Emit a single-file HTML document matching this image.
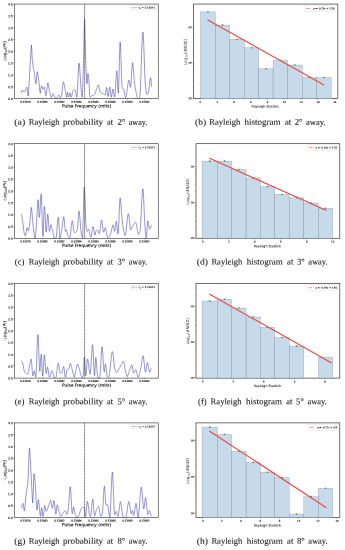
<!DOCTYPE html>
<html><head><meta charset="utf-8"><title>Rayleigh figures</title>
<style>
html,body{margin:0;padding:0;background:#fff;}
body{width:345px;height:550px;overflow:hidden;}
svg{display:block;}
.t{font-family:"DejaVu Sans","Liberation Sans",sans-serif;fill:#111;stroke:#111;stroke-width:0.12px;}
.u{font-family:"DejaVu Sans","Liberation Sans",sans-serif;fill:#2a2a2a;}
.m{font-family:"DejaVu Sans","Liberation Sans",sans-serif;fill:#151515;stroke:#151515;stroke-width:0.06px;}
.c{font-family:"Liberation Serif","DejaVu Serif",serif;fill:#1c1c1c;stroke:#1c1c1c;stroke-width:0.09px;}
</style></head><body>
<svg width="345" height="550" viewBox="0 0 345 550" text-rendering="geometricPrecision">
<rect width="345" height="550" fill="#fff"/>

<g>
<path d="M21.20,92.90 L21.45,91.84 L21.70,90.99 L21.95,90.37 L22.20,90.04 L22.45,90.03 L22.70,90.29 L22.95,90.70 L23.20,91.17 L23.45,91.59 L23.70,91.86 L23.95,91.88 L24.20,91.77 L24.45,91.59 L24.70,91.37 L24.95,91.11 L25.20,90.82 L25.45,90.47 L25.71,89.95 L25.96,89.30 L26.21,88.60 L26.46,87.91 L26.71,87.30 L26.96,87.19 L27.21,88.63 L27.46,91.01 L27.71,93.54 L27.96,95.47 L28.21,96.02 L28.46,94.43 L28.71,90.85 L28.96,86.76 L29.21,82.30 L29.46,77.61 L29.71,72.81 L29.96,68.01 L30.21,63.36 L30.46,58.94 L30.71,54.45 L30.96,50.10 L31.21,46.38 L31.46,44.89 L31.71,48.39 L31.96,54.16 L32.21,59.07 L32.46,61.20 L32.71,63.06 L32.96,64.88 L33.21,66.61 L33.46,68.21 L33.71,69.62 L33.96,70.89 L34.21,72.15 L34.47,73.62 L34.72,75.55 L34.97,77.74 L35.22,79.95 L35.47,81.98 L35.72,83.59 L35.97,83.68 L36.22,82.02 L36.47,79.30 L36.72,76.21 L36.97,73.46 L37.22,71.74 L37.47,71.74 L37.72,73.21 L37.97,74.86 L38.22,76.66 L38.47,78.56 L38.72,80.55 L38.97,82.59 L39.22,84.93 L39.47,87.45 L39.72,89.89 L39.97,92.02 L40.22,93.37 L40.47,92.84 L40.72,90.99 L40.97,88.64 L41.22,86.60 L41.47,85.70 L41.72,85.99 L41.97,86.60 L42.22,87.36 L42.47,88.11 L42.72,88.71 L42.98,88.99 L43.23,88.81 L43.48,88.25 L43.73,87.61 L43.98,87.16 L44.23,87.22 L44.48,88.04 L44.73,89.41 L44.98,91.09 L45.23,92.82 L45.48,94.36 L45.73,95.44 L45.98,95.81 L46.23,95.08 L46.48,93.44 L46.73,91.22 L46.98,88.74 L47.23,86.34 L47.48,84.34 L47.73,83.06 L47.98,82.84 L48.23,83.82 L48.48,85.20 L48.73,86.69 L48.98,88.16 L49.23,89.45 L49.48,90.68 L49.73,91.91 L49.98,93.12 L50.23,94.28 L50.48,95.36 L50.73,96.33 L50.98,97.15 L51.23,97.60 L51.48,97.47 L51.74,96.93 L51.99,96.14 L52.24,95.25 L52.49,94.41 L52.74,93.79 L52.99,93.55 L53.24,93.77 L53.49,94.20 L53.74,94.78 L53.99,95.42 L54.24,96.10 L54.49,96.74 L54.74,97.31 L54.99,97.74 L55.24,97.98 L55.49,98.04 L55.74,98.05 L55.99,98.02 L56.24,97.95 L56.49,97.84 L56.74,97.69 L56.99,97.51 L57.24,97.23 L57.49,96.84 L57.74,96.39 L57.99,95.93 L58.24,95.51 L58.49,95.19 L58.74,95.06 L58.99,95.25 L59.24,95.69 L59.49,96.26 L59.74,96.86 L59.99,97.39 L60.24,97.73 L60.50,97.78 L60.75,97.49 L61.00,96.96 L61.25,96.26 L61.50,95.44 L61.75,93.99 L62.00,91.97 L62.25,89.64 L62.50,87.23 L62.75,84.99 L63.00,83.17 L63.25,82.02 L63.50,81.78 L63.75,82.51 L64.00,83.54 L64.25,84.74 L64.50,86.05 L64.75,87.41 L65.00,88.77 L65.25,90.12 L65.50,91.55 L65.75,93.04 L66.00,94.52 L66.25,95.93 L66.50,97.21 L66.75,97.07 L67.00,95.24 L67.25,93.14 L67.50,92.20 L67.75,92.84 L68.00,94.20 L68.25,95.73 L68.50,96.90 L68.75,97.16 L69.00,96.46 L69.26,95.25 L69.51,93.97 L69.76,93.07 L70.01,92.98 L70.26,93.68 L70.51,94.83 L70.76,96.05 L71.01,96.98 L71.26,97.25 L71.51,96.74 L71.76,95.85 L72.01,94.72 L72.26,93.49 L72.51,92.32 L72.76,91.33 L73.01,90.68 L73.26,90.29 L73.51,90.01 L73.76,89.83 L74.01,89.72 L74.26,89.69 L74.51,89.72 L74.76,89.80 L75.01,89.90 L75.26,90.06 L75.51,90.81 L75.76,92.14 L76.01,93.74 L76.26,95.34 L76.51,96.62 L76.76,97.25 L77.01,96.06 L77.26,93.05 L77.51,88.72 L77.77,83.58 L78.02,78.12 L78.27,72.84 L78.52,68.26 L78.77,64.86 L79.02,63.16 L79.27,63.64 L79.52,66.08 L79.77,69.29 L80.02,73.02 L80.27,77.01 L80.52,81.01 L80.77,84.77 L81.02,88.02 L81.27,91.00 L81.52,93.75 L81.77,95.94 L82.02,97.26 L82.27,96.42 L82.52,92.89 L82.77,87.08 L83.02,79.36 L83.27,70.13 L83.52,59.92 L83.77,49.40 L84.02,38.74 L84.27,25.84 L84.52,18.76 L84.77,24.14 L85.02,35.03 L85.27,44.16 L85.52,52.57 L85.77,60.86 L86.02,68.54 L86.27,74.92 L86.53,79.87 L86.78,83.26 L87.03,83.79 L87.28,80.98 L87.53,76.92 L87.78,73.72 L88.03,73.45 L88.28,75.08 L88.53,77.09 L88.78,79.50 L89.03,82.35 L89.28,86.64 L89.53,91.70 L89.78,95.79 L90.03,97.19 L90.28,97.09 L90.53,96.93 L90.78,96.73 L91.03,96.50 L91.28,96.27 L91.53,96.06 L91.78,95.87 L92.03,95.73 L92.28,95.62 L92.53,95.52 L92.78,95.44 L93.03,95.36 L93.28,95.27 L93.53,95.18 L93.78,95.07 L94.03,94.93 L94.28,94.77 L94.53,94.56 L94.78,94.32 L95.03,93.89 L95.29,93.20 L95.54,92.33 L95.79,91.40 L96.04,90.51 L96.29,89.75 L96.54,89.04 L96.79,88.34 L97.04,87.66 L97.29,87.02 L97.54,86.42 L97.79,85.89 L98.04,85.42 L98.29,85.04 L98.54,84.87 L98.79,85.37 L99.04,86.41 L99.29,87.78 L99.54,89.26 L99.79,90.63 L100.04,91.68 L100.29,92.19 L100.54,92.34 L100.79,92.49 L101.04,92.64 L101.29,92.78 L101.54,92.92 L101.79,93.06 L102.04,93.20 L102.29,93.34 L102.54,93.47 L102.79,93.60 L103.04,93.72 L103.29,93.85 L103.54,93.97 L103.80,94.10 L104.05,94.22 L104.30,94.39 L104.55,94.59 L104.80,94.80 L105.05,95.00 L105.30,95.04 L105.55,94.01 L105.80,92.15 L106.05,90.06 L106.30,88.34 L106.55,87.55 L106.80,88.11 L107.05,89.70 L107.30,91.82 L107.55,94.03 L107.80,95.83 L108.05,96.76 L108.30,96.45 L108.55,95.12 L108.80,93.16 L109.05,90.98 L109.30,88.96 L109.55,87.50 L109.80,87.00 L110.05,87.83 L110.30,89.72 L110.55,92.13 L110.80,94.53 L111.05,96.36 L111.30,97.10 L111.55,96.61 L111.80,95.34 L112.05,93.62 L112.30,91.79 L112.56,90.20 L112.81,89.17 L113.06,89.05 L113.31,89.91 L113.56,91.42 L113.81,93.23 L114.06,95.00 L114.31,96.40 L114.56,97.08 L114.81,96.49 L115.06,94.31 L115.31,90.98 L115.56,86.92 L115.81,82.56 L116.06,78.33 L116.31,74.67 L116.56,72.00 L116.81,70.96 L117.06,72.95 L117.31,77.21 L117.56,82.54 L117.81,87.76 L118.06,91.67 L118.31,93.09 L118.56,90.24 L118.81,83.33 L119.06,73.92 L119.31,63.53 L119.56,53.73 L119.81,46.04 L120.06,42.01 L120.31,42.88 L120.56,47.15 L120.81,53.61 L121.06,61.37 L121.32,69.52 L121.57,77.16 L121.82,83.41 L122.07,87.35 L122.32,88.45 L122.57,88.74 L122.82,88.80 L123.07,88.78 L123.32,88.85 L123.57,89.16 L123.82,89.87 L124.07,90.99 L124.32,92.37 L124.57,93.86 L124.82,95.29 L125.07,96.53 L125.32,97.42 L125.57,97.79 L125.82,97.56 L126.07,96.82 L126.32,95.66 L126.57,94.16 L126.82,92.42 L127.07,90.51 L127.32,88.53 L127.57,86.56 L127.82,84.70 L128.07,83.04 L128.32,81.65 L128.57,80.63 L128.82,80.07 L129.07,80.35 L129.32,81.44 L129.57,83.02 L129.82,84.73 L130.08,86.24 L130.33,87.22 L130.58,87.27 L130.83,85.66 L131.08,82.58 L131.33,78.58 L131.58,74.16 L131.83,69.84 L132.08,66.14 L132.33,63.58 L132.58,62.68 L132.83,63.74 L133.08,65.78 L133.33,68.42 L133.58,71.45 L133.83,74.66 L134.08,77.83 L134.33,80.77 L134.58,83.26 L134.83,85.09 L135.08,86.58 L135.33,88.03 L135.58,89.43 L135.83,90.78 L136.08,92.07 L136.33,93.31 L136.58,94.50 L136.83,95.63 L137.08,96.71 L137.33,97.73 L137.58,98.55 L137.83,98.56 L138.08,98.56 L138.33,98.56 L138.59,98.56 L138.84,98.56 L139.09,98.56 L139.34,98.35 L139.59,97.84 L139.84,96.99 L140.09,94.33 L140.34,90.00 L140.59,84.34 L140.84,77.72 L141.09,70.47 L141.34,62.96 L141.59,55.54 L141.84,48.57 L142.09,42.38 L142.34,37.35 L142.59,33.82 L142.84,32.14 L143.09,32.67 L143.34,35.57 L143.59,40.40 L143.84,46.62 L144.09,53.73 L144.34,61.20 L144.59,68.51 L144.84,75.16 L145.09,80.61 L145.34,84.34 L145.59,86.59 L145.84,88.75 L146.09,90.75 L146.34,92.46 L146.59,93.77 L146.84,94.54 L147.09,94.70 L147.35,94.57 L147.60,94.28 L147.85,93.81 L148.10,93.17 L148.35,92.37 L148.60,91.41 L148.85,90.00 L149.10,88.00 L149.35,85.66 L149.60,83.22 L149.85,80.96 L150.10,79.11 L150.35,77.94 L150.60,77.86 L150.85,78.85 L151.10,80.75 L151.35,83.39 L151.60,86.60" fill="none" stroke="#2b2ba6" stroke-width="0.5" stroke-linejoin="round"/>
<line x1="84.6" y1="4.06" x2="84.6" y2="98.66" stroke="#262626" stroke-width="0.6" stroke-dasharray="1.25 0.25"/>
<rect x="14.5" y="4.06" width="143.75" height="94.6" fill="none" stroke="#2a2a2a" stroke-width="0.6"/>
<line x1="13.4" y1="98.66" x2="14.5" y2="98.66" stroke="#2a2a2a" stroke-width="0.35"/>
<text class="t" transform="matrix(1 0.0006 0 1 12.90 100.11)" font-size="3.0" text-anchor="end">0.0</text>
<line x1="13.4" y1="86.83" x2="14.5" y2="86.83" stroke="#2a2a2a" stroke-width="0.35"/>
<text class="t" transform="matrix(1 0.0006 0 1 12.90 88.28)" font-size="3.0" text-anchor="end">0.5</text>
<line x1="13.4" y1="75.01" x2="14.5" y2="75.01" stroke="#2a2a2a" stroke-width="0.35"/>
<text class="t" transform="matrix(1 0.0006 0 1 12.90 76.46)" font-size="3.0" text-anchor="end">1.0</text>
<line x1="13.4" y1="63.19" x2="14.5" y2="63.19" stroke="#2a2a2a" stroke-width="0.35"/>
<text class="t" transform="matrix(1 0.0006 0 1 12.90 64.64)" font-size="3.0" text-anchor="end">1.5</text>
<line x1="13.4" y1="51.36" x2="14.5" y2="51.36" stroke="#2a2a2a" stroke-width="0.35"/>
<text class="t" transform="matrix(1 0.0006 0 1 12.90 52.81)" font-size="3.0" text-anchor="end">2.0</text>
<line x1="13.4" y1="39.53" x2="14.5" y2="39.53" stroke="#2a2a2a" stroke-width="0.35"/>
<text class="t" transform="matrix(1 0.0006 0 1 12.90 40.98)" font-size="3.0" text-anchor="end">2.5</text>
<line x1="13.4" y1="27.71" x2="14.5" y2="27.71" stroke="#2a2a2a" stroke-width="0.35"/>
<text class="t" transform="matrix(1 0.0006 0 1 12.90 29.16)" font-size="3.0" text-anchor="end">3.0</text>
<line x1="13.4" y1="15.89" x2="14.5" y2="15.89" stroke="#2a2a2a" stroke-width="0.35"/>
<text class="t" transform="matrix(1 0.0006 0 1 12.90 17.34)" font-size="3.0" text-anchor="end">3.5</text>
<line x1="13.4" y1="4.06" x2="14.5" y2="4.06" stroke="#2a2a2a" stroke-width="0.35"/>
<text class="t" transform="matrix(1 0.0006 0 1 12.90 5.51)" font-size="3.0" text-anchor="end">4.0</text>
<line x1="25.50" y1="98.66" x2="25.50" y2="99.75999999999999" stroke="#2a2a2a" stroke-width="0.35"/>
<text class="t" transform="matrix(1 0.0006 0 1 25.50 102.66)" font-size="2.5" text-anchor="middle">8.53878</text>
<line x1="42.50" y1="98.66" x2="42.50" y2="99.75999999999999" stroke="#2a2a2a" stroke-width="0.35"/>
<text class="t" transform="matrix(1 0.0006 0 1 42.50 102.66)" font-size="2.5" text-anchor="middle">8.53880</text>
<line x1="59.50" y1="98.66" x2="59.50" y2="99.75999999999999" stroke="#2a2a2a" stroke-width="0.35"/>
<text class="t" transform="matrix(1 0.0006 0 1 59.50 102.66)" font-size="2.5" text-anchor="middle">8.53882</text>
<line x1="76.50" y1="98.66" x2="76.50" y2="99.75999999999999" stroke="#2a2a2a" stroke-width="0.35"/>
<text class="t" transform="matrix(1 0.0006 0 1 76.50 102.66)" font-size="2.5" text-anchor="middle">8.53884</text>
<line x1="93.50" y1="98.66" x2="93.50" y2="99.75999999999999" stroke="#2a2a2a" stroke-width="0.35"/>
<text class="t" transform="matrix(1 0.0006 0 1 93.50 102.66)" font-size="2.5" text-anchor="middle">8.53886</text>
<line x1="110.50" y1="98.66" x2="110.50" y2="99.75999999999999" stroke="#2a2a2a" stroke-width="0.35"/>
<text class="t" transform="matrix(1 0.0006 0 1 110.50 102.66)" font-size="2.5" text-anchor="middle">8.53888</text>
<line x1="127.50" y1="98.66" x2="127.50" y2="99.75999999999999" stroke="#2a2a2a" stroke-width="0.35"/>
<text class="t" transform="matrix(1 0.0006 0 1 127.50 102.66)" font-size="2.5" text-anchor="middle">8.53890</text>
<line x1="144.50" y1="98.66" x2="144.50" y2="99.75999999999999" stroke="#2a2a2a" stroke-width="0.35"/>
<text class="t" transform="matrix(1 0.0006 0 1 144.50 102.66)" font-size="2.5" text-anchor="middle">8.53892</text>
<text class="t" transform="matrix(1 0.0006 0 1 86.67 107.41)" font-size="4.3" text-anchor="middle">Pulse Frequency (mHz)</text>
<text class="m" transform="matrix(0.0006 -1 1 0 6.20 51.36)" font-size="4.3" text-anchor="middle" textLength="20.4" lengthAdjust="spacingAndGlyphs">-Log<tspan font-size="3.0" dy="0.9">10</tspan><tspan dy="-0.9">(Pr)</tspan></text>
<rect x="130.9" y="5.56" width="26.3" height="4.3" rx="0.5" fill="#fff" stroke="#ccc" stroke-width="0.3"/>
<line x1="131.8" y1="7.71" x2="136.8" y2="7.71" stroke="#222" stroke-width="0.45" stroke-dasharray="1 0.4"/>
<text class="m" transform="matrix(1 0.0006 0 1 138.50 8.56)" font-size="2.5">ν<tspan font-size="1.7" dy="0.5">0</tspan><tspan dy="-0.5"> = 8.53845</tspan></text>
<text class="c" transform="matrix(1 0.0006 0 1 14.30 124.81)" font-size="8.7"><tspan x="0" textLength="11.00" lengthAdjust="spacingAndGlyphs">(a)</tspan> <tspan x="14.50" textLength="30.80" lengthAdjust="spacingAndGlyphs">Rayleigh</tspan> <tspan x="48.70" textLength="40.10" lengthAdjust="spacingAndGlyphs">probability</tspan> <tspan x="92.70" textLength="6.00" lengthAdjust="spacingAndGlyphs">at</tspan> <tspan x="103.10" textLength="7.80" lengthAdjust="spacingAndGlyphs">2°</tspan> <tspan x="114.40" textLength="18.60" lengthAdjust="spacingAndGlyphs">away.</tspan></text>
</g>
<g>
<rect x="193.65" y="4.06" width="144.20" height="94.6" fill="none" stroke="#2a2a2a" stroke-width="0.66"/>
<rect x="200.50" y="11.90" width="14.90" height="86.96" fill="#b4cde2" fill-opacity="0.75" stroke="#6f7c8a" stroke-opacity="0.7" stroke-width="0.38"/>
<rect x="215.40" y="25.10" width="14.30" height="73.76" fill="#b4cde2" fill-opacity="0.75" stroke="#6f7c8a" stroke-opacity="0.7" stroke-width="0.38"/>
<rect x="229.70" y="39.30" width="14.70" height="59.56" fill="#b4cde2" fill-opacity="0.75" stroke="#6f7c8a" stroke-opacity="0.7" stroke-width="0.38"/>
<rect x="244.40" y="47.80" width="14.40" height="51.06" fill="#b4cde2" fill-opacity="0.75" stroke="#6f7c8a" stroke-opacity="0.7" stroke-width="0.38"/>
<rect x="258.80" y="68.80" width="14.30" height="30.06" fill="#b4cde2" fill-opacity="0.75" stroke="#6f7c8a" stroke-opacity="0.7" stroke-width="0.38"/>
<rect x="273.10" y="60.30" width="14.50" height="38.56" fill="#b4cde2" fill-opacity="0.75" stroke="#6f7c8a" stroke-opacity="0.7" stroke-width="0.38"/>
<rect x="287.60" y="65.00" width="14.60" height="33.86" fill="#b4cde2" fill-opacity="0.75" stroke="#6f7c8a" stroke-opacity="0.7" stroke-width="0.38"/>
<rect x="302.20" y="77.50" width="14.40" height="21.36" fill="#b4cde2" fill-opacity="0.75" stroke="#6f7c8a" stroke-opacity="0.7" stroke-width="0.38"/>
<rect x="316.60" y="77.50" width="14.60" height="21.36" fill="#b4cde2" fill-opacity="0.75" stroke="#6f7c8a" stroke-opacity="0.7" stroke-width="0.38"/>
<circle cx="207.95" cy="11.95" r="0.8" fill="#2f8f40"/>
<circle cx="222.55" cy="25.15" r="0.8" fill="#2f8f40"/>
<circle cx="237.05" cy="39.35" r="0.8" fill="#2f8f40"/>
<circle cx="251.60" cy="47.85" r="0.8" fill="#2f8f40"/>
<circle cx="265.95" cy="68.85" r="0.8" fill="#2f8f40"/>
<circle cx="280.35" cy="60.35" r="0.8" fill="#2f8f40"/>
<circle cx="294.90" cy="65.05" r="0.8" fill="#2f8f40"/>
<circle cx="309.40" cy="77.55" r="0.8" fill="#2f8f40"/>
<circle cx="323.90" cy="77.55" r="0.8" fill="#2f8f40"/>
<line x1="207.8" y1="20.0" x2="323.6" y2="84.8" stroke="#f54242" stroke-width="1.12" stroke-linecap="round"/>
<line x1="200.20" y1="98.66" x2="200.20" y2="99.75999999999999" stroke="#2a2a2a" stroke-width="0.35"/>
<text class="t" transform="matrix(1 0.0006 0 1 200.40 102.96)" font-size="2.5" text-anchor="middle">0</text>
<line x1="217.00" y1="98.66" x2="217.00" y2="99.75999999999999" stroke="#2a2a2a" stroke-width="0.35"/>
<text class="t" transform="matrix(1 0.0006 0 1 217.20 102.96)" font-size="2.5" text-anchor="middle">2</text>
<line x1="233.80" y1="98.66" x2="233.80" y2="99.75999999999999" stroke="#2a2a2a" stroke-width="0.35"/>
<text class="t" transform="matrix(1 0.0006 0 1 234.00 102.96)" font-size="2.5" text-anchor="middle">4</text>
<line x1="250.60" y1="98.66" x2="250.60" y2="99.75999999999999" stroke="#2a2a2a" stroke-width="0.35"/>
<text class="t" transform="matrix(1 0.0006 0 1 250.80 102.96)" font-size="2.5" text-anchor="middle">6</text>
<line x1="267.40" y1="98.66" x2="267.40" y2="99.75999999999999" stroke="#2a2a2a" stroke-width="0.35"/>
<text class="t" transform="matrix(1 0.0006 0 1 267.60 102.96)" font-size="2.5" text-anchor="middle">8</text>
<line x1="284.20" y1="98.66" x2="284.20" y2="99.75999999999999" stroke="#2a2a2a" stroke-width="0.35"/>
<text class="t" transform="matrix(1 0.0006 0 1 284.40 102.96)" font-size="2.5" text-anchor="middle">10</text>
<line x1="301.00" y1="98.66" x2="301.00" y2="99.75999999999999" stroke="#2a2a2a" stroke-width="0.35"/>
<text class="t" transform="matrix(1 0.0006 0 1 301.20 102.96)" font-size="2.5" text-anchor="middle">12</text>
<line x1="317.80" y1="98.66" x2="317.80" y2="99.75999999999999" stroke="#2a2a2a" stroke-width="0.35"/>
<text class="t" transform="matrix(1 0.0006 0 1 318.00 102.96)" font-size="2.5" text-anchor="middle">14</text>
<line x1="334.60" y1="98.66" x2="334.60" y2="99.75999999999999" stroke="#2a2a2a" stroke-width="0.35"/>
<text class="t" transform="matrix(1 0.0006 0 1 334.80 102.96)" font-size="2.5" text-anchor="middle">16</text>
<line x1="192.55" y1="98.30" x2="193.65" y2="98.30" stroke="#2a2a2a" stroke-width="0.35"/>
<text class="t" transform="matrix(1 0.0006 0 1 192.05 99.20)" font-size="2.3" text-anchor="end">10⁰</text>
<line x1="192.55" y1="62.80" x2="193.65" y2="62.80" stroke="#2a2a2a" stroke-width="0.35"/>
<text class="t" transform="matrix(1 0.0006 0 1 192.05 63.70)" font-size="2.3" text-anchor="end">10¹</text>
<line x1="192.55" y1="27.30" x2="193.65" y2="27.30" stroke="#2a2a2a" stroke-width="0.35"/>
<text class="t" transform="matrix(1 0.0006 0 1 192.05 28.20)" font-size="2.3" text-anchor="end">10²</text>
<line x1="193.05" y1="87.60" x2="193.65" y2="87.60" stroke="#2a2a2a" stroke-width="0.25"/>
<line x1="193.05" y1="81.30" x2="193.65" y2="81.30" stroke="#2a2a2a" stroke-width="0.25"/>
<line x1="193.05" y1="76.90" x2="193.65" y2="76.90" stroke="#2a2a2a" stroke-width="0.25"/>
<line x1="193.05" y1="73.40" x2="193.65" y2="73.40" stroke="#2a2a2a" stroke-width="0.25"/>
<line x1="193.05" y1="70.60" x2="193.65" y2="70.60" stroke="#2a2a2a" stroke-width="0.25"/>
<line x1="193.05" y1="68.20" x2="193.65" y2="68.20" stroke="#2a2a2a" stroke-width="0.25"/>
<line x1="193.05" y1="66.10" x2="193.65" y2="66.10" stroke="#2a2a2a" stroke-width="0.25"/>
<line x1="193.05" y1="64.30" x2="193.65" y2="64.30" stroke="#2a2a2a" stroke-width="0.25"/>
<line x1="193.05" y1="52.10" x2="193.65" y2="52.10" stroke="#2a2a2a" stroke-width="0.25"/>
<line x1="193.05" y1="87.70" x2="193.65" y2="87.70" stroke="#2a2a2a" stroke-width="0.25"/>
<line x1="193.05" y1="45.80" x2="193.65" y2="45.80" stroke="#2a2a2a" stroke-width="0.25"/>
<line x1="193.05" y1="81.40" x2="193.65" y2="81.40" stroke="#2a2a2a" stroke-width="0.25"/>
<line x1="193.05" y1="41.40" x2="193.65" y2="41.40" stroke="#2a2a2a" stroke-width="0.25"/>
<line x1="193.05" y1="77.00" x2="193.65" y2="77.00" stroke="#2a2a2a" stroke-width="0.25"/>
<line x1="193.05" y1="37.90" x2="193.65" y2="37.90" stroke="#2a2a2a" stroke-width="0.25"/>
<line x1="193.05" y1="73.50" x2="193.65" y2="73.50" stroke="#2a2a2a" stroke-width="0.25"/>
<line x1="193.05" y1="35.10" x2="193.65" y2="35.10" stroke="#2a2a2a" stroke-width="0.25"/>
<line x1="193.05" y1="70.70" x2="193.65" y2="70.70" stroke="#2a2a2a" stroke-width="0.25"/>
<line x1="193.05" y1="32.70" x2="193.65" y2="32.70" stroke="#2a2a2a" stroke-width="0.25"/>
<line x1="193.05" y1="68.30" x2="193.65" y2="68.30" stroke="#2a2a2a" stroke-width="0.25"/>
<line x1="193.05" y1="30.60" x2="193.65" y2="30.60" stroke="#2a2a2a" stroke-width="0.25"/>
<line x1="193.05" y1="66.20" x2="193.65" y2="66.20" stroke="#2a2a2a" stroke-width="0.25"/>
<line x1="193.05" y1="28.80" x2="193.65" y2="28.80" stroke="#2a2a2a" stroke-width="0.25"/>
<line x1="193.05" y1="64.40" x2="193.65" y2="64.40" stroke="#2a2a2a" stroke-width="0.25"/>
<line x1="193.05" y1="16.60" x2="193.65" y2="16.60" stroke="#2a2a2a" stroke-width="0.25"/>
<line x1="193.05" y1="52.20" x2="193.65" y2="52.20" stroke="#2a2a2a" stroke-width="0.25"/>
<line x1="193.05" y1="10.30" x2="193.65" y2="10.30" stroke="#2a2a2a" stroke-width="0.25"/>
<line x1="193.05" y1="45.90" x2="193.65" y2="45.90" stroke="#2a2a2a" stroke-width="0.25"/>
<line x1="193.05" y1="5.90" x2="193.65" y2="5.90" stroke="#2a2a2a" stroke-width="0.25"/>
<line x1="193.05" y1="41.50" x2="193.65" y2="41.50" stroke="#2a2a2a" stroke-width="0.25"/>
<line x1="193.05" y1="38.00" x2="193.65" y2="38.00" stroke="#2a2a2a" stroke-width="0.25"/>
<line x1="193.05" y1="35.20" x2="193.65" y2="35.20" stroke="#2a2a2a" stroke-width="0.25"/>
<line x1="193.05" y1="32.80" x2="193.65" y2="32.80" stroke="#2a2a2a" stroke-width="0.25"/>
<line x1="193.05" y1="30.70" x2="193.65" y2="30.70" stroke="#2a2a2a" stroke-width="0.25"/>
<line x1="193.05" y1="28.90" x2="193.65" y2="28.90" stroke="#2a2a2a" stroke-width="0.25"/>
<text class="m" transform="matrix(1 0.0006 0 1 265.35 107.56)" font-size="3.2" text-anchor="middle">Rayleigh Statistic</text>
<text class="u" transform="matrix(0.0006 -1 1 0 186.75 51.96)" font-size="3.9" text-anchor="middle" textLength="26.4" lengthAdjust="spacingAndGlyphs">Log<tspan font-size="2.6" dy="0.8">10</tspan><tspan dy="-0.8">(dN/dZ)</tspan></text>
<rect x="304.2" y="5.3" width="31.60" height="6.20" rx="0.5" fill="#fff" stroke="#ccc" stroke-width="0.3"/>
<line x1="306.2" y1="8.40" x2="310.2" y2="8.40" stroke="#ff5a5a" stroke-width="0.7"/>
<text class="t" transform="matrix(1 0.0006 0 1 334.60 9.30)" font-size="2.4" text-anchor="end">y = -0.13x + 2.35</text>
<text class="c" transform="matrix(1 0.0006 0 1 195.10 124.81)" font-size="8.7"><tspan x="0" textLength="11.10" lengthAdjust="spacingAndGlyphs">(b)</tspan> <tspan x="14.20" textLength="31.00" lengthAdjust="spacingAndGlyphs">Rayleigh</tspan> <tspan x="49.50" textLength="36.00" lengthAdjust="spacingAndGlyphs">histogram</tspan> <tspan x="89.90" textLength="6.20" lengthAdjust="spacingAndGlyphs">at</tspan> <tspan x="99.70" textLength="7.80" lengthAdjust="spacingAndGlyphs">2°</tspan> <tspan x="111.00" textLength="19.50" lengthAdjust="spacingAndGlyphs">away.</tspan></text>
</g>
<g>
<path d="M21.50,214.10 L21.75,215.27 L22.00,216.64 L22.25,218.15 L22.50,219.78 L22.75,221.70 L23.00,223.84 L23.25,226.08 L23.50,228.28 L23.75,230.32 L24.00,232.08 L24.25,233.48 L24.50,234.54 L24.75,235.26 L25.00,235.68 L25.25,235.81 L25.50,235.47 L25.75,234.46 L26.01,233.00 L26.26,231.35 L26.51,229.77 L26.76,228.50 L27.01,227.79 L27.26,227.89 L27.51,228.64 L27.76,229.65 L28.01,230.57 L28.26,231.03 L28.51,230.67 L28.76,229.61 L29.01,228.23 L29.26,226.62 L29.51,224.85 L29.76,223.02 L30.01,221.08 L30.26,218.21 L30.51,214.79 L30.76,211.44 L31.01,208.78 L31.26,207.45 L31.51,207.95 L31.76,209.82 L32.01,212.55 L32.26,215.71 L32.51,218.88 L32.76,221.65 L33.01,223.99 L33.26,226.35 L33.51,228.68 L33.76,230.94 L34.01,233.06 L34.26,234.99 L34.52,236.66 L34.77,237.98 L35.02,238.15 L35.27,237.08 L35.52,235.07 L35.77,232.41 L36.02,229.37 L36.27,226.24 L36.52,223.30 L36.77,219.74 L37.02,215.19 L37.27,210.28 L37.52,205.60 L37.77,201.77 L38.02,199.65 L38.27,200.93 L38.52,204.67 L38.77,209.53 L39.02,214.15 L39.27,217.19 L39.52,217.40 L39.77,214.92 L40.02,210.65 L40.27,205.52 L40.52,200.43 L40.77,196.28 L41.02,193.99 L41.27,194.70 L41.52,199.03 L41.77,205.87 L42.02,214.04 L42.27,222.37 L42.52,229.68 L42.77,234.77 L43.02,236.48 L43.28,233.44 L43.53,226.78 L43.78,218.67 L44.03,211.24 L44.28,206.66 L44.53,206.61 L44.78,209.43 L45.03,213.94 L45.28,219.30 L45.53,224.63 L45.78,229.08 L46.03,231.79 L46.28,231.94 L46.53,229.74 L46.78,226.07 L47.03,221.82 L47.28,217.82 L47.53,214.95 L47.78,214.06 L48.03,215.40 L48.28,218.11 L48.53,221.60 L48.78,225.27 L49.03,228.51 L49.28,230.75 L49.53,231.38 L49.78,230.59 L50.03,229.06 L50.28,227.26 L50.53,225.68 L50.78,224.77 L51.03,225.00 L51.28,225.80 L51.53,226.63 L51.78,227.53 L52.04,228.48 L52.29,229.51 L52.54,230.61 L52.79,231.80 L53.04,233.04 L53.29,234.30 L53.54,235.53 L53.79,236.70 L54.04,237.74 L54.29,238.20 L54.54,238.20 L54.79,238.20 L55.04,238.20 L55.29,238.20 L55.54,238.20 L55.79,238.20 L56.04,237.93 L56.29,236.77 L56.54,234.62 L56.79,231.77 L57.04,228.54 L57.29,225.23 L57.54,222.15 L57.79,219.60 L58.04,217.90 L58.29,217.42 L58.54,218.96 L58.79,222.12 L59.04,226.20 L59.29,230.53 L59.54,234.41 L59.79,237.17 L60.04,238.11 L60.29,237.35 L60.55,236.39 L60.80,235.28 L61.05,234.06 L61.30,232.73 L61.55,231.31 L61.80,229.75 L62.05,227.94 L62.30,225.98 L62.55,223.95 L62.80,221.97 L63.05,220.12 L63.30,218.50 L63.55,217.21 L63.80,216.79 L64.05,217.91 L64.30,220.14 L64.55,223.01 L64.80,226.05 L65.05,228.78 L65.30,230.73 L65.55,231.43 L65.80,231.08 L66.05,230.35 L66.30,229.84 L66.55,230.14 L66.80,230.98 L67.05,232.00 L67.30,233.11 L67.55,234.20 L67.80,235.18 L68.05,235.94 L68.30,236.54 L68.55,237.00 L68.80,237.35 L69.05,237.59 L69.31,237.73 L69.56,237.77 L69.81,237.73 L70.06,237.43 L70.31,236.25 L70.56,234.36 L70.81,231.98 L71.06,229.35 L71.31,226.70 L71.56,224.27 L71.81,222.29 L72.06,220.99 L72.31,220.60 L72.56,221.31 L72.81,222.89 L73.06,225.02 L73.31,227.34 L73.56,229.53 L73.81,231.25 L74.06,232.15 L74.31,232.35 L74.56,232.48 L74.81,232.55 L75.06,232.56 L75.31,232.52 L75.56,232.42 L75.81,232.27 L76.06,232.04 L76.31,231.70 L76.56,231.27 L76.81,230.75 L77.06,230.16 L77.31,229.53 L77.56,228.43 L77.82,225.78 L78.07,222.14 L78.32,218.17 L78.57,214.56 L78.82,211.99 L79.07,211.15 L79.32,212.11 L79.57,214.05 L79.82,216.69 L80.07,219.77 L80.32,223.03 L80.57,226.20 L80.82,229.02 L81.07,231.25 L81.32,233.08 L81.57,234.63 L81.82,235.90 L82.07,236.90 L82.32,237.64 L82.57,237.87 L82.82,233.84 L83.07,225.68 L83.32,215.22 L83.57,204.30 L83.82,194.76 L84.07,188.42 L84.32,187.13 L84.57,190.17 L84.82,195.61 L85.07,202.51 L85.32,209.94 L85.57,216.99 L85.82,222.72 L86.07,226.21 L86.32,227.97 L86.58,229.61 L86.83,230.84 L87.08,231.39 L87.33,231.26 L87.58,230.84 L87.83,230.27 L88.08,229.72 L88.33,229.34 L88.58,229.28 L88.83,229.69 L89.08,230.52 L89.33,231.64 L89.58,232.92 L89.83,234.23 L90.08,235.45 L90.33,236.43 L90.58,237.06 L90.83,237.18 L91.08,236.59 L91.33,235.45 L91.58,233.92 L91.83,232.17 L92.08,230.40 L92.33,228.76 L92.58,227.43 L92.83,226.60 L93.08,226.43 L93.33,227.01 L93.58,228.15 L93.83,229.66 L94.08,231.31 L94.33,232.89 L94.58,234.20 L94.83,235.01 L95.08,235.12 L95.34,234.41 L95.59,233.18 L95.84,231.87 L96.09,230.91 L96.34,230.58 L96.59,230.41 L96.84,230.31 L97.09,230.28 L97.34,230.31 L97.59,230.41 L97.84,230.57 L98.09,230.81 L98.34,231.41 L98.59,232.24 L98.84,233.04 L99.09,233.59 L99.34,233.51 L99.59,232.69 L99.84,231.31 L100.09,229.53 L100.34,227.52 L100.59,225.46 L100.84,223.49 L101.09,221.81 L101.34,220.57 L101.59,219.94 L101.84,220.15 L102.09,221.42 L102.34,223.44 L102.59,225.85 L102.84,228.28 L103.09,230.40 L103.34,231.82 L103.59,232.24 L103.85,231.95 L104.10,231.21 L104.35,230.23 L104.60,229.19 L104.85,228.30 L105.10,227.74 L105.35,227.72 L105.60,228.32 L105.85,229.36 L106.10,230.69 L106.35,232.20 L106.60,233.74 L106.85,235.18 L107.10,236.39 L107.35,237.24 L107.60,237.60 L107.85,237.62 L108.10,237.56 L108.35,237.43 L108.60,237.22 L108.85,236.95 L109.10,236.62 L109.35,236.23 L109.60,235.80 L109.85,235.32 L110.10,234.80 L110.35,234.24 L110.60,233.64 L110.85,232.87 L111.10,231.94 L111.35,230.91 L111.60,229.80 L111.85,228.69 L112.10,227.60 L112.35,226.59 L112.61,225.71 L112.86,225.00 L113.11,224.80 L113.36,225.49 L113.61,226.78 L113.86,228.33 L114.11,229.83 L114.36,230.96 L114.61,231.40 L114.86,230.80 L115.11,229.30 L115.36,227.26 L115.61,225.07 L115.86,223.08 L116.11,221.69 L116.36,221.34 L116.61,222.35 L116.86,224.33 L117.11,226.86 L117.36,229.52 L117.61,231.86 L117.86,233.46 L118.11,233.89 L118.36,232.05 L118.61,227.83 L118.86,222.04 L119.11,215.48 L119.36,208.97 L119.61,203.33 L119.86,199.37 L120.11,197.89 L120.36,199.07 L120.61,201.11 L120.86,203.72 L121.12,206.72 L121.37,209.96 L121.62,213.29 L121.87,216.54 L122.12,219.58 L122.37,222.23 L122.62,224.34 L122.87,225.94 L123.12,227.47 L123.37,228.95 L123.62,230.35 L123.87,231.64 L124.12,232.80 L124.37,233.80 L124.62,234.60 L124.87,235.18 L125.12,235.51 L125.37,235.27 L125.62,234.30 L125.87,232.76 L126.12,230.75 L126.37,228.42 L126.62,225.89 L126.87,223.30 L127.12,220.77 L127.37,218.43 L127.62,216.41 L127.87,214.84 L128.12,213.86 L128.37,213.58 L128.62,214.18 L128.87,215.62 L129.12,217.66 L129.37,220.08 L129.62,222.65 L129.88,225.13 L130.13,227.30 L130.38,228.93 L130.63,229.78 L130.88,229.68 L131.13,229.26 L131.38,228.77 L131.63,228.24 L131.88,227.69 L132.13,227.15 L132.38,226.63 L132.63,226.15 L132.88,225.73 L133.13,225.36 L133.38,225.00 L133.63,224.64 L133.88,224.29 L134.13,223.96 L134.38,223.64 L134.63,223.36 L134.88,223.10 L135.13,222.87 L135.38,222.68 L135.63,222.53 L135.88,222.58 L136.13,223.17 L136.38,224.19 L136.63,225.54 L136.88,227.11 L137.13,228.76 L137.38,230.39 L137.63,231.89 L137.88,233.13 L138.13,233.99 L138.38,234.45 L138.64,234.56 L138.89,234.37 L139.14,233.94 L139.39,233.32 L139.64,232.58 L139.89,231.77 L140.14,230.70 L140.39,228.26 L140.64,224.59 L140.89,220.01 L141.14,214.84 L141.39,209.40 L141.64,203.99 L141.89,198.96 L142.14,194.60 L142.39,191.24 L142.64,189.19 L142.89,188.78 L143.14,190.30 L143.39,193.62 L143.64,198.28 L143.89,203.79 L144.14,209.68 L144.39,215.46 L144.64,220.66 L144.89,224.80 L145.14,228.20 L145.39,231.45 L145.64,234.32 L145.89,236.59 L146.14,238.02 L146.39,237.89 L146.64,235.50 L146.89,231.71 L147.15,227.45 L147.40,223.67 L147.65,221.27 L147.90,221.05 L148.15,221.97 L148.40,223.42 L148.65,225.13 L148.90,226.80 L149.15,228.16 L149.40,228.92 L149.65,228.99 L149.90,228.90 L150.15,228.70 L150.40,228.37 L150.65,227.85 L150.90,227.13 L151.15,226.15 L151.40,224.90" fill="none" stroke="#2b2ba6" stroke-width="0.5" stroke-linejoin="round"/>
<line x1="84.6" y1="143.7" x2="84.6" y2="238.29999999999998" stroke="#262626" stroke-width="0.6" stroke-dasharray="1.25 0.25"/>
<rect x="14.5" y="143.7" width="143.75" height="94.6" fill="none" stroke="#2a2a2a" stroke-width="0.6"/>
<line x1="13.4" y1="238.30" x2="14.5" y2="238.30" stroke="#2a2a2a" stroke-width="0.35"/>
<text class="t" transform="matrix(1 0.0006 0 1 12.90 239.75)" font-size="3.0" text-anchor="end">0.0</text>
<line x1="13.4" y1="226.47" x2="14.5" y2="226.47" stroke="#2a2a2a" stroke-width="0.35"/>
<text class="t" transform="matrix(1 0.0006 0 1 12.90 227.92)" font-size="3.0" text-anchor="end">0.5</text>
<line x1="13.4" y1="214.65" x2="14.5" y2="214.65" stroke="#2a2a2a" stroke-width="0.35"/>
<text class="t" transform="matrix(1 0.0006 0 1 12.90 216.10)" font-size="3.0" text-anchor="end">1.0</text>
<line x1="13.4" y1="202.82" x2="14.5" y2="202.82" stroke="#2a2a2a" stroke-width="0.35"/>
<text class="t" transform="matrix(1 0.0006 0 1 12.90 204.27)" font-size="3.0" text-anchor="end">1.5</text>
<line x1="13.4" y1="191.00" x2="14.5" y2="191.00" stroke="#2a2a2a" stroke-width="0.35"/>
<text class="t" transform="matrix(1 0.0006 0 1 12.90 192.45)" font-size="3.0" text-anchor="end">2.0</text>
<line x1="13.4" y1="179.17" x2="14.5" y2="179.17" stroke="#2a2a2a" stroke-width="0.35"/>
<text class="t" transform="matrix(1 0.0006 0 1 12.90 180.62)" font-size="3.0" text-anchor="end">2.5</text>
<line x1="13.4" y1="167.35" x2="14.5" y2="167.35" stroke="#2a2a2a" stroke-width="0.35"/>
<text class="t" transform="matrix(1 0.0006 0 1 12.90 168.80)" font-size="3.0" text-anchor="end">3.0</text>
<line x1="13.4" y1="155.52" x2="14.5" y2="155.52" stroke="#2a2a2a" stroke-width="0.35"/>
<text class="t" transform="matrix(1 0.0006 0 1 12.90 156.97)" font-size="3.0" text-anchor="end">3.5</text>
<line x1="13.4" y1="143.70" x2="14.5" y2="143.70" stroke="#2a2a2a" stroke-width="0.35"/>
<text class="t" transform="matrix(1 0.0006 0 1 12.90 145.15)" font-size="3.0" text-anchor="end">4.0</text>
<line x1="25.50" y1="238.29999999999998" x2="25.50" y2="239.39999999999998" stroke="#2a2a2a" stroke-width="0.35"/>
<text class="t" transform="matrix(1 0.0006 0 1 25.50 242.30)" font-size="2.5" text-anchor="middle">8.53878</text>
<line x1="42.50" y1="238.29999999999998" x2="42.50" y2="239.39999999999998" stroke="#2a2a2a" stroke-width="0.35"/>
<text class="t" transform="matrix(1 0.0006 0 1 42.50 242.30)" font-size="2.5" text-anchor="middle">8.53880</text>
<line x1="59.50" y1="238.29999999999998" x2="59.50" y2="239.39999999999998" stroke="#2a2a2a" stroke-width="0.35"/>
<text class="t" transform="matrix(1 0.0006 0 1 59.50 242.30)" font-size="2.5" text-anchor="middle">8.53882</text>
<line x1="76.50" y1="238.29999999999998" x2="76.50" y2="239.39999999999998" stroke="#2a2a2a" stroke-width="0.35"/>
<text class="t" transform="matrix(1 0.0006 0 1 76.50 242.30)" font-size="2.5" text-anchor="middle">8.53884</text>
<line x1="93.50" y1="238.29999999999998" x2="93.50" y2="239.39999999999998" stroke="#2a2a2a" stroke-width="0.35"/>
<text class="t" transform="matrix(1 0.0006 0 1 93.50 242.30)" font-size="2.5" text-anchor="middle">8.53886</text>
<line x1="110.50" y1="238.29999999999998" x2="110.50" y2="239.39999999999998" stroke="#2a2a2a" stroke-width="0.35"/>
<text class="t" transform="matrix(1 0.0006 0 1 110.50 242.30)" font-size="2.5" text-anchor="middle">8.53888</text>
<line x1="127.50" y1="238.29999999999998" x2="127.50" y2="239.39999999999998" stroke="#2a2a2a" stroke-width="0.35"/>
<text class="t" transform="matrix(1 0.0006 0 1 127.50 242.30)" font-size="2.5" text-anchor="middle">8.53890</text>
<line x1="144.50" y1="238.29999999999998" x2="144.50" y2="239.39999999999998" stroke="#2a2a2a" stroke-width="0.35"/>
<text class="t" transform="matrix(1 0.0006 0 1 144.50 242.30)" font-size="2.5" text-anchor="middle">8.53892</text>
<text class="t" transform="matrix(1 0.0006 0 1 86.67 247.05)" font-size="4.3" text-anchor="middle">Pulse Frequency (mHz)</text>
<text class="m" transform="matrix(0.0006 -1 1 0 6.20 191.00)" font-size="4.3" text-anchor="middle" textLength="20.4" lengthAdjust="spacingAndGlyphs">-Log<tspan font-size="3.0" dy="0.9">10</tspan><tspan dy="-0.9">(Pr)</tspan></text>
<rect x="130.9" y="145.20" width="26.3" height="4.3" rx="0.5" fill="#fff" stroke="#ccc" stroke-width="0.3"/>
<line x1="131.8" y1="147.35" x2="136.8" y2="147.35" stroke="#222" stroke-width="0.45" stroke-dasharray="1 0.4"/>
<text class="m" transform="matrix(1 0.0006 0 1 138.50 148.20)" font-size="2.5">ν<tspan font-size="1.7" dy="0.5">0</tspan><tspan dy="-0.5"> = 8.53845</tspan></text>
<text class="c" transform="matrix(1 0.0006 0 1 14.70 264.45)" font-size="8.7"><tspan x="0" textLength="9.70" lengthAdjust="spacingAndGlyphs">(c)</tspan> <tspan x="14.10" textLength="30.80" lengthAdjust="spacingAndGlyphs">Rayleigh</tspan> <tspan x="48.30" textLength="40.10" lengthAdjust="spacingAndGlyphs">probability</tspan> <tspan x="92.30" textLength="6.00" lengthAdjust="spacingAndGlyphs">at</tspan> <tspan x="102.70" textLength="7.80" lengthAdjust="spacingAndGlyphs">3°</tspan> <tspan x="114.00" textLength="18.60" lengthAdjust="spacingAndGlyphs">away.</tspan></text>
</g>
<g>
<rect x="196.0" y="143.7" width="143.80" height="94.6" fill="none" stroke="#2a2a2a" stroke-width="0.66"/>
<rect x="202.10" y="161.10" width="15.30" height="77.40" fill="#b4cde2" fill-opacity="0.75" stroke="#6f7c8a" stroke-opacity="0.7" stroke-width="0.38"/>
<rect x="217.40" y="161.10" width="14.20" height="77.40" fill="#b4cde2" fill-opacity="0.75" stroke="#6f7c8a" stroke-opacity="0.7" stroke-width="0.38"/>
<rect x="231.60" y="169.60" width="14.50" height="68.90" fill="#b4cde2" fill-opacity="0.75" stroke="#6f7c8a" stroke-opacity="0.7" stroke-width="0.38"/>
<rect x="246.10" y="177.90" width="14.20" height="60.60" fill="#b4cde2" fill-opacity="0.75" stroke="#6f7c8a" stroke-opacity="0.7" stroke-width="0.38"/>
<rect x="260.30" y="186.60" width="14.50" height="51.90" fill="#b4cde2" fill-opacity="0.75" stroke="#6f7c8a" stroke-opacity="0.7" stroke-width="0.38"/>
<rect x="274.80" y="194.40" width="14.40" height="44.10" fill="#b4cde2" fill-opacity="0.75" stroke="#6f7c8a" stroke-opacity="0.7" stroke-width="0.38"/>
<rect x="289.20" y="197.80" width="14.60" height="40.70" fill="#b4cde2" fill-opacity="0.75" stroke="#6f7c8a" stroke-opacity="0.7" stroke-width="0.38"/>
<rect x="303.80" y="203.00" width="14.60" height="35.50" fill="#b4cde2" fill-opacity="0.75" stroke="#6f7c8a" stroke-opacity="0.7" stroke-width="0.38"/>
<rect x="318.40" y="208.20" width="14.30" height="30.30" fill="#b4cde2" fill-opacity="0.75" stroke="#6f7c8a" stroke-opacity="0.7" stroke-width="0.38"/>
<circle cx="209.75" cy="161.15" r="0.8" fill="#2f8f40"/>
<circle cx="224.50" cy="161.15" r="0.8" fill="#2f8f40"/>
<circle cx="238.85" cy="169.65" r="0.8" fill="#2f8f40"/>
<circle cx="253.20" cy="177.95" r="0.8" fill="#2f8f40"/>
<circle cx="267.55" cy="186.65" r="0.8" fill="#2f8f40"/>
<circle cx="282.00" cy="194.45" r="0.8" fill="#2f8f40"/>
<circle cx="296.50" cy="197.85" r="0.8" fill="#2f8f40"/>
<circle cx="311.10" cy="203.05" r="0.8" fill="#2f8f40"/>
<circle cx="325.55" cy="208.25" r="0.8" fill="#2f8f40"/>
<line x1="209.6" y1="158.3" x2="326" y2="210.3" stroke="#f54242" stroke-width="1.12" stroke-linecap="round"/>
<line x1="202.50" y1="238.29999999999998" x2="202.50" y2="239.39999999999998" stroke="#2a2a2a" stroke-width="0.35"/>
<text class="t" transform="matrix(1 0.0006 0 1 202.70 242.60)" font-size="2.5" text-anchor="middle">0</text>
<line x1="228.50" y1="238.29999999999998" x2="228.50" y2="239.39999999999998" stroke="#2a2a2a" stroke-width="0.35"/>
<text class="t" transform="matrix(1 0.0006 0 1 228.70 242.60)" font-size="2.5" text-anchor="middle">2</text>
<line x1="254.50" y1="238.29999999999998" x2="254.50" y2="239.39999999999998" stroke="#2a2a2a" stroke-width="0.35"/>
<text class="t" transform="matrix(1 0.0006 0 1 254.70 242.60)" font-size="2.5" text-anchor="middle">4</text>
<line x1="280.50" y1="238.29999999999998" x2="280.50" y2="239.39999999999998" stroke="#2a2a2a" stroke-width="0.35"/>
<text class="t" transform="matrix(1 0.0006 0 1 280.70 242.60)" font-size="2.5" text-anchor="middle">6</text>
<line x1="306.50" y1="238.29999999999998" x2="306.50" y2="239.39999999999998" stroke="#2a2a2a" stroke-width="0.35"/>
<text class="t" transform="matrix(1 0.0006 0 1 306.70 242.60)" font-size="2.5" text-anchor="middle">8</text>
<line x1="332.50" y1="238.29999999999998" x2="332.50" y2="239.39999999999998" stroke="#2a2a2a" stroke-width="0.35"/>
<text class="t" transform="matrix(1 0.0006 0 1 332.70 242.60)" font-size="2.5" text-anchor="middle">10</text>
<line x1="194.9" y1="238.00" x2="196.0" y2="238.00" stroke="#2a2a2a" stroke-width="0.35"/>
<text class="t" transform="matrix(1 0.0006 0 1 194.40 238.90)" font-size="2.3" text-anchor="end">10⁰</text>
<line x1="194.9" y1="202.50" x2="196.0" y2="202.50" stroke="#2a2a2a" stroke-width="0.35"/>
<text class="t" transform="matrix(1 0.0006 0 1 194.40 203.40)" font-size="2.3" text-anchor="end">10¹</text>
<line x1="194.9" y1="166.60" x2="196.0" y2="166.60" stroke="#2a2a2a" stroke-width="0.35"/>
<text class="t" transform="matrix(1 0.0006 0 1 194.40 167.50)" font-size="2.3" text-anchor="end">10²</text>
<line x1="195.4" y1="227.30" x2="196.0" y2="227.30" stroke="#2a2a2a" stroke-width="0.25"/>
<line x1="195.4" y1="221.00" x2="196.0" y2="221.00" stroke="#2a2a2a" stroke-width="0.25"/>
<line x1="195.4" y1="216.60" x2="196.0" y2="216.60" stroke="#2a2a2a" stroke-width="0.25"/>
<line x1="195.4" y1="213.10" x2="196.0" y2="213.10" stroke="#2a2a2a" stroke-width="0.25"/>
<line x1="195.4" y1="210.30" x2="196.0" y2="210.30" stroke="#2a2a2a" stroke-width="0.25"/>
<line x1="195.4" y1="207.90" x2="196.0" y2="207.90" stroke="#2a2a2a" stroke-width="0.25"/>
<line x1="195.4" y1="205.80" x2="196.0" y2="205.80" stroke="#2a2a2a" stroke-width="0.25"/>
<line x1="195.4" y1="204.00" x2="196.0" y2="204.00" stroke="#2a2a2a" stroke-width="0.25"/>
<line x1="195.4" y1="191.80" x2="196.0" y2="191.80" stroke="#2a2a2a" stroke-width="0.25"/>
<line x1="195.4" y1="227.40" x2="196.0" y2="227.40" stroke="#2a2a2a" stroke-width="0.25"/>
<line x1="195.4" y1="185.50" x2="196.0" y2="185.50" stroke="#2a2a2a" stroke-width="0.25"/>
<line x1="195.4" y1="221.10" x2="196.0" y2="221.10" stroke="#2a2a2a" stroke-width="0.25"/>
<line x1="195.4" y1="181.10" x2="196.0" y2="181.10" stroke="#2a2a2a" stroke-width="0.25"/>
<line x1="195.4" y1="216.70" x2="196.0" y2="216.70" stroke="#2a2a2a" stroke-width="0.25"/>
<line x1="195.4" y1="177.60" x2="196.0" y2="177.60" stroke="#2a2a2a" stroke-width="0.25"/>
<line x1="195.4" y1="213.20" x2="196.0" y2="213.20" stroke="#2a2a2a" stroke-width="0.25"/>
<line x1="195.4" y1="174.80" x2="196.0" y2="174.80" stroke="#2a2a2a" stroke-width="0.25"/>
<line x1="195.4" y1="210.40" x2="196.0" y2="210.40" stroke="#2a2a2a" stroke-width="0.25"/>
<line x1="195.4" y1="172.40" x2="196.0" y2="172.40" stroke="#2a2a2a" stroke-width="0.25"/>
<line x1="195.4" y1="208.00" x2="196.0" y2="208.00" stroke="#2a2a2a" stroke-width="0.25"/>
<line x1="195.4" y1="170.30" x2="196.0" y2="170.30" stroke="#2a2a2a" stroke-width="0.25"/>
<line x1="195.4" y1="205.90" x2="196.0" y2="205.90" stroke="#2a2a2a" stroke-width="0.25"/>
<line x1="195.4" y1="168.50" x2="196.0" y2="168.50" stroke="#2a2a2a" stroke-width="0.25"/>
<line x1="195.4" y1="204.10" x2="196.0" y2="204.10" stroke="#2a2a2a" stroke-width="0.25"/>
<line x1="195.4" y1="155.90" x2="196.0" y2="155.90" stroke="#2a2a2a" stroke-width="0.25"/>
<line x1="195.4" y1="191.50" x2="196.0" y2="191.50" stroke="#2a2a2a" stroke-width="0.25"/>
<line x1="195.4" y1="149.60" x2="196.0" y2="149.60" stroke="#2a2a2a" stroke-width="0.25"/>
<line x1="195.4" y1="185.20" x2="196.0" y2="185.20" stroke="#2a2a2a" stroke-width="0.25"/>
<line x1="195.4" y1="145.20" x2="196.0" y2="145.20" stroke="#2a2a2a" stroke-width="0.25"/>
<line x1="195.4" y1="180.80" x2="196.0" y2="180.80" stroke="#2a2a2a" stroke-width="0.25"/>
<line x1="195.4" y1="177.30" x2="196.0" y2="177.30" stroke="#2a2a2a" stroke-width="0.25"/>
<line x1="195.4" y1="174.50" x2="196.0" y2="174.50" stroke="#2a2a2a" stroke-width="0.25"/>
<line x1="195.4" y1="172.10" x2="196.0" y2="172.10" stroke="#2a2a2a" stroke-width="0.25"/>
<line x1="195.4" y1="170.00" x2="196.0" y2="170.00" stroke="#2a2a2a" stroke-width="0.25"/>
<line x1="195.4" y1="168.20" x2="196.0" y2="168.20" stroke="#2a2a2a" stroke-width="0.25"/>
<text class="m" transform="matrix(1 0.0006 0 1 267.50 247.20)" font-size="3.2" text-anchor="middle">Rayleigh Statistic</text>
<text class="u" transform="matrix(0.0006 -1 1 0 189.10 191.60)" font-size="3.9" text-anchor="middle" textLength="26.4" lengthAdjust="spacingAndGlyphs">Log<tspan font-size="2.6" dy="0.8">10</tspan><tspan dy="-0.8">(dN/dZ)</tspan></text>
<rect x="306.6" y="144.5" width="31.60" height="6.20" rx="0.5" fill="#fff" stroke="#ccc" stroke-width="0.3"/>
<line x1="308.6" y1="147.60" x2="312.6" y2="147.60" stroke="#ff5a5a" stroke-width="0.7"/>
<text class="t" transform="matrix(1 0.0006 0 1 337.00 148.50)" font-size="2.4" text-anchor="end">y = -0.14x + 2.32</text>
<text class="c" transform="matrix(1 0.0006 0 1 196.80 264.45)" font-size="8.7"><tspan x="0" textLength="11.20" lengthAdjust="spacingAndGlyphs">(d)</tspan> <tspan x="14.60" textLength="31.00" lengthAdjust="spacingAndGlyphs">Rayleigh</tspan> <tspan x="49.90" textLength="36.00" lengthAdjust="spacingAndGlyphs">histogram</tspan> <tspan x="90.30" textLength="6.20" lengthAdjust="spacingAndGlyphs">at</tspan> <tspan x="100.10" textLength="7.80" lengthAdjust="spacingAndGlyphs">3°</tspan> <tspan x="111.40" textLength="19.50" lengthAdjust="spacingAndGlyphs">away.</tspan></text>
</g>
<g>
<path d="M21.50,360.60 L21.75,360.99 L22.00,361.51 L22.25,362.14 L22.50,362.87 L22.75,363.67 L23.00,364.71 L23.25,365.97 L23.50,367.33 L23.75,368.69 L24.00,369.94 L24.25,370.95 L24.50,371.65 L24.75,372.17 L25.00,372.58 L25.25,372.89 L25.50,373.12 L25.75,373.30 L26.00,373.45 L26.25,373.58 L26.50,373.72 L26.75,373.90 L27.00,374.05 L27.25,374.13 L27.50,374.08 L27.75,373.86 L28.01,373.43 L28.26,372.72 L28.51,371.68 L28.76,370.38 L29.01,368.92 L29.26,367.40 L29.51,365.94 L29.76,364.62 L30.01,363.41 L30.26,362.26 L30.51,361.20 L30.76,360.24 L31.01,359.39 L31.26,359.10 L31.51,360.71 L31.76,363.71 L32.01,367.39 L32.26,371.08 L32.51,374.08 L32.76,375.71 L33.01,375.77 L33.26,375.03 L33.51,373.84 L33.76,372.51 L34.01,371.37 L34.26,370.73 L34.51,371.00 L34.76,372.18 L35.01,373.84 L35.26,375.52 L35.51,376.79 L35.76,377.14 L36.01,375.10 L36.26,370.72 L36.51,364.73 L36.76,357.82 L37.01,350.71 L37.26,344.12 L37.51,338.74 L37.76,335.31 L38.01,334.60 L38.26,337.35 L38.51,342.69 L38.76,349.58 L39.01,356.95 L39.26,363.74 L39.51,368.89 L39.76,371.33 L40.01,370.36 L40.26,366.88 L40.51,362.21 L40.76,357.69 L41.02,354.63 L41.27,354.36 L41.52,357.09 L41.77,361.75 L42.02,367.16 L42.27,372.17 L42.52,375.62 L42.77,376.40 L43.02,374.41 L43.27,370.58 L43.52,365.81 L43.77,361.01 L44.02,357.08 L44.27,354.92 L44.52,355.26 L44.77,357.37 L45.02,360.55 L45.27,364.25 L45.52,367.95 L45.77,371.09 L46.02,373.12 L46.27,373.54 L46.52,372.61 L46.77,370.97 L47.02,369.13 L47.27,367.64 L47.52,367.03 L47.77,367.59 L48.02,368.83 L48.27,370.48 L48.52,372.32 L48.77,374.13 L49.02,375.70 L49.27,376.80 L49.52,377.20 L49.77,377.01 L50.02,376.44 L50.27,375.59 L50.52,374.58 L50.77,373.51 L51.02,372.47 L51.27,371.57 L51.52,370.91 L51.77,370.60 L52.02,370.73 L52.27,371.22 L52.52,371.92 L52.77,372.76 L53.02,373.70 L53.27,374.66 L53.52,375.60 L53.77,376.45 L54.03,377.16 L54.28,377.66 L54.53,377.96 L54.78,378.00 L55.03,378.00 L55.28,378.00 L55.53,377.84 L55.78,377.54 L56.03,377.15 L56.28,376.24 L56.53,374.68 L56.78,372.68 L57.03,370.44 L57.28,368.19 L57.53,366.13 L57.78,364.48 L58.03,363.44 L58.28,363.23 L58.53,363.88 L58.78,365.17 L59.03,366.85 L59.28,368.70 L59.53,370.46 L59.78,371.90 L60.03,372.78 L60.28,373.09 L60.53,373.27 L60.78,373.37 L61.03,373.37 L61.28,373.28 L61.53,373.08 L61.78,372.78 L62.03,372.15 L62.28,371.24 L62.53,370.17 L62.78,369.04 L63.03,367.97 L63.28,367.08 L63.53,366.49 L63.78,366.53 L64.03,367.63 L64.28,369.47 L64.53,371.69 L64.78,373.93 L65.03,375.83 L65.28,377.02 L65.53,377.15 L65.78,376.40 L66.03,375.17 L66.28,373.67 L66.53,372.11 L66.78,370.71 L67.04,369.68 L67.29,369.19 L67.54,369.01 L67.79,368.96 L68.04,368.98 L68.29,369.02 L68.54,369.00 L68.79,368.86 L69.04,368.53 L69.29,367.63 L69.54,366.25 L69.79,364.81 L70.04,363.70 L70.29,363.32 L70.54,363.88 L70.79,364.64 L71.04,365.46 L71.29,366.32 L71.54,367.22 L71.79,368.13 L72.04,369.05 L72.29,369.96 L72.54,370.93 L72.79,372.00 L73.04,373.13 L73.29,374.24 L73.54,375.27 L73.79,376.17 L74.04,376.88 L74.29,377.29 L74.54,377.01 L74.79,376.10 L75.04,374.78 L75.29,373.26 L75.54,371.74 L75.79,370.44 L76.04,369.44 L76.29,368.32 L76.54,367.14 L76.79,366.00 L77.04,365.04 L77.29,364.36 L77.54,364.10 L77.79,364.34 L78.04,364.85 L78.29,365.51 L78.54,366.29 L78.79,367.15 L79.04,368.05 L79.29,368.95 L79.54,369.82 L79.79,370.65 L80.05,371.49 L80.30,372.35 L80.55,373.22 L80.80,374.09 L81.05,374.97 L81.30,375.83 L81.55,376.68 L81.80,377.48 L82.05,377.88 L82.30,377.86 L82.55,377.53 L82.80,376.96 L83.05,376.26 L83.30,375.17 L83.55,371.21 L83.80,365.49 L84.05,360.07 L84.30,357.01 L84.55,357.64 L84.80,361.05 L85.05,365.90 L85.30,370.86 L85.55,374.60 L85.80,375.80 L86.05,374.48 L86.30,371.91 L86.55,368.63 L86.80,365.17 L87.05,362.07 L87.30,359.86 L87.55,359.06 L87.80,359.42 L88.05,360.53 L88.30,362.21 L88.55,364.26 L88.80,366.52 L89.05,368.79 L89.30,370.88 L89.55,372.62 L89.80,373.83 L90.05,374.31 L90.30,373.68 L90.55,371.66 L90.80,368.57 L91.05,364.74 L91.30,360.49 L91.55,356.16 L91.80,352.08 L92.05,348.59 L92.30,346.01 L92.55,344.68 L92.81,345.40 L93.06,348.75 L93.31,353.89 L93.56,359.94 L93.81,366.02 L94.06,371.27 L94.31,374.80 L94.56,375.73 L94.81,373.44 L95.06,369.01 L95.31,363.91 L95.56,359.62 L95.81,357.58 L96.06,358.64 L96.31,361.02 L96.56,364.17 L96.81,367.68 L97.06,371.16 L97.31,374.21 L97.56,376.45 L97.81,377.59 L98.06,378.00 L98.31,378.00 L98.56,378.00 L98.81,378.00 L99.06,378.00 L99.31,378.00 L99.56,377.81 L99.81,376.89 L100.06,375.42 L100.31,372.52 L100.56,368.54 L100.81,363.91 L101.06,359.08 L101.31,354.50 L101.56,350.61 L101.81,347.85 L102.06,346.69 L102.31,347.52 L102.56,350.01 L102.81,353.66 L103.06,357.97 L103.31,362.43 L103.56,366.55 L103.81,369.81 L104.06,371.71 L104.31,371.79 L104.56,370.20 L104.81,367.80 L105.06,365.44 L105.31,363.98 L105.56,364.25 L105.82,365.69 L106.07,367.70 L106.32,369.99 L106.57,372.30 L106.82,374.34 L107.07,375.83 L107.32,376.58 L107.57,377.04 L107.82,377.32 L108.07,377.42 L108.32,377.35 L108.57,377.11 L108.82,376.70 L109.07,376.11 L109.32,375.04 L109.57,373.45 L109.82,371.44 L110.07,369.13 L110.32,366.62 L110.57,364.00 L110.82,361.39 L111.07,358.89 L111.32,356.59 L111.57,354.61 L111.82,353.05 L112.07,352.00 L112.32,351.58 L112.57,351.90 L112.82,352.95 L113.07,354.58 L113.32,356.63 L113.57,358.96 L113.82,361.40 L114.07,363.80 L114.32,366.01 L114.57,367.87 L114.82,369.23 L115.07,369.96 L115.32,370.53 L115.57,371.10 L115.82,371.62 L116.07,372.06 L116.32,372.37 L116.57,372.50 L116.82,372.41 L117.07,372.08 L117.32,371.68 L117.57,371.27 L117.82,370.85 L118.07,370.44 L118.32,370.02 L118.57,369.60 L118.83,369.18 L119.08,368.75 L119.33,368.33 L119.58,367.90 L119.83,367.45 L120.08,367.00 L120.33,366.53 L120.58,366.06 L120.83,365.59 L121.08,365.12 L121.33,364.64 L121.58,364.17 L121.83,363.71 L122.08,363.26 L122.33,362.82 L122.58,362.39 L122.83,361.98 L123.08,361.58 L123.33,361.29 L123.58,361.47 L123.83,362.12 L124.08,363.13 L124.33,364.43 L124.58,365.91 L124.83,367.48 L125.08,369.05 L125.33,370.54 L125.58,371.84 L125.83,372.87 L126.08,373.69 L126.33,374.59 L126.58,375.45 L126.83,376.16 L127.08,376.58 L127.33,376.59 L127.58,376.09 L127.83,375.41 L128.08,374.70 L128.33,373.96 L128.58,373.21 L128.83,372.46 L129.08,371.73 L129.33,371.03 L129.58,370.32 L129.83,369.62 L130.08,368.93 L130.33,368.24 L130.58,367.56 L130.83,366.88 L131.08,366.22 L131.33,365.57 L131.58,364.94 L131.84,364.78 L132.09,365.50 L132.34,366.83 L132.59,368.49 L132.84,370.23 L133.09,371.75 L133.34,372.80 L133.59,373.14 L133.84,373.03 L134.09,372.67 L134.34,372.14 L134.59,371.52 L134.84,370.89 L135.09,370.34 L135.34,369.94 L135.59,369.77 L135.84,369.93 L136.09,370.43 L136.34,371.20 L136.59,372.15 L136.84,373.21 L137.09,374.29 L137.34,375.31 L137.59,376.19 L137.84,376.85 L138.09,377.20 L138.34,377.17 L138.59,376.77 L138.84,376.17 L139.09,375.43 L139.34,374.57 L139.59,373.61 L139.84,372.59 L140.09,371.53 L140.34,370.47 L140.59,369.40 L140.84,368.18 L141.09,366.80 L141.34,365.30 L141.59,363.74 L141.84,362.15 L142.09,360.60 L142.34,359.13 L142.59,357.79 L142.84,356.62 L143.09,355.75 L143.34,355.97 L143.59,357.22 L143.84,359.25 L144.09,361.76 L144.34,364.50 L144.59,367.18 L144.85,369.53 L145.10,371.28 L145.35,372.15 L145.60,372.00 L145.85,371.08 L146.10,369.64 L146.35,367.90 L146.60,366.08 L146.85,364.43 L147.10,363.16 L147.35,362.50 L147.60,362.66 L147.85,363.51 L148.10,364.82 L148.35,366.42 L148.60,368.12 L148.85,369.73 L149.10,371.07 L149.35,371.96 L149.60,372.25 L149.85,372.23 L150.10,371.97 L150.35,371.45 L150.60,370.66 L150.85,369.59 L151.10,368.20" fill="none" stroke="#2b2ba6" stroke-width="0.5" stroke-linejoin="round"/>
<line x1="84.6" y1="283.5" x2="84.6" y2="378.1" stroke="#262626" stroke-width="0.6" stroke-dasharray="1.25 0.25"/>
<rect x="14.5" y="283.5" width="143.75" height="94.6" fill="none" stroke="#2a2a2a" stroke-width="0.6"/>
<line x1="13.4" y1="378.10" x2="14.5" y2="378.10" stroke="#2a2a2a" stroke-width="0.35"/>
<text class="t" transform="matrix(1 0.0006 0 1 12.90 379.55)" font-size="3.0" text-anchor="end">0.0</text>
<line x1="13.4" y1="366.28" x2="14.5" y2="366.28" stroke="#2a2a2a" stroke-width="0.35"/>
<text class="t" transform="matrix(1 0.0006 0 1 12.90 367.73)" font-size="3.0" text-anchor="end">0.5</text>
<line x1="13.4" y1="354.45" x2="14.5" y2="354.45" stroke="#2a2a2a" stroke-width="0.35"/>
<text class="t" transform="matrix(1 0.0006 0 1 12.90 355.90)" font-size="3.0" text-anchor="end">1.0</text>
<line x1="13.4" y1="342.62" x2="14.5" y2="342.62" stroke="#2a2a2a" stroke-width="0.35"/>
<text class="t" transform="matrix(1 0.0006 0 1 12.90 344.07)" font-size="3.0" text-anchor="end">1.5</text>
<line x1="13.4" y1="330.80" x2="14.5" y2="330.80" stroke="#2a2a2a" stroke-width="0.35"/>
<text class="t" transform="matrix(1 0.0006 0 1 12.90 332.25)" font-size="3.0" text-anchor="end">2.0</text>
<line x1="13.4" y1="318.98" x2="14.5" y2="318.98" stroke="#2a2a2a" stroke-width="0.35"/>
<text class="t" transform="matrix(1 0.0006 0 1 12.90 320.43)" font-size="3.0" text-anchor="end">2.5</text>
<line x1="13.4" y1="307.15" x2="14.5" y2="307.15" stroke="#2a2a2a" stroke-width="0.35"/>
<text class="t" transform="matrix(1 0.0006 0 1 12.90 308.60)" font-size="3.0" text-anchor="end">3.0</text>
<line x1="13.4" y1="295.33" x2="14.5" y2="295.33" stroke="#2a2a2a" stroke-width="0.35"/>
<text class="t" transform="matrix(1 0.0006 0 1 12.90 296.78)" font-size="3.0" text-anchor="end">3.5</text>
<line x1="13.4" y1="283.50" x2="14.5" y2="283.50" stroke="#2a2a2a" stroke-width="0.35"/>
<text class="t" transform="matrix(1 0.0006 0 1 12.90 284.95)" font-size="3.0" text-anchor="end">4.0</text>
<line x1="25.50" y1="378.1" x2="25.50" y2="379.20000000000005" stroke="#2a2a2a" stroke-width="0.35"/>
<text class="t" transform="matrix(1 0.0006 0 1 25.50 382.10)" font-size="2.5" text-anchor="middle">8.53878</text>
<line x1="42.50" y1="378.1" x2="42.50" y2="379.20000000000005" stroke="#2a2a2a" stroke-width="0.35"/>
<text class="t" transform="matrix(1 0.0006 0 1 42.50 382.10)" font-size="2.5" text-anchor="middle">8.53880</text>
<line x1="59.50" y1="378.1" x2="59.50" y2="379.20000000000005" stroke="#2a2a2a" stroke-width="0.35"/>
<text class="t" transform="matrix(1 0.0006 0 1 59.50 382.10)" font-size="2.5" text-anchor="middle">8.53882</text>
<line x1="76.50" y1="378.1" x2="76.50" y2="379.20000000000005" stroke="#2a2a2a" stroke-width="0.35"/>
<text class="t" transform="matrix(1 0.0006 0 1 76.50 382.10)" font-size="2.5" text-anchor="middle">8.53884</text>
<line x1="93.50" y1="378.1" x2="93.50" y2="379.20000000000005" stroke="#2a2a2a" stroke-width="0.35"/>
<text class="t" transform="matrix(1 0.0006 0 1 93.50 382.10)" font-size="2.5" text-anchor="middle">8.53886</text>
<line x1="110.50" y1="378.1" x2="110.50" y2="379.20000000000005" stroke="#2a2a2a" stroke-width="0.35"/>
<text class="t" transform="matrix(1 0.0006 0 1 110.50 382.10)" font-size="2.5" text-anchor="middle">8.53888</text>
<line x1="127.50" y1="378.1" x2="127.50" y2="379.20000000000005" stroke="#2a2a2a" stroke-width="0.35"/>
<text class="t" transform="matrix(1 0.0006 0 1 127.50 382.10)" font-size="2.5" text-anchor="middle">8.53890</text>
<line x1="144.50" y1="378.1" x2="144.50" y2="379.20000000000005" stroke="#2a2a2a" stroke-width="0.35"/>
<text class="t" transform="matrix(1 0.0006 0 1 144.50 382.10)" font-size="2.5" text-anchor="middle">8.53892</text>
<text class="t" transform="matrix(1 0.0006 0 1 86.67 386.85)" font-size="4.3" text-anchor="middle">Pulse Frequency (mHz)</text>
<text class="m" transform="matrix(0.0006 -1 1 0 6.20 330.80)" font-size="4.3" text-anchor="middle" textLength="20.4" lengthAdjust="spacingAndGlyphs">-Log<tspan font-size="3.0" dy="0.9">10</tspan><tspan dy="-0.9">(Pr)</tspan></text>
<rect x="130.9" y="285.00" width="26.3" height="4.3" rx="0.5" fill="#fff" stroke="#ccc" stroke-width="0.3"/>
<line x1="131.8" y1="287.15" x2="136.8" y2="287.15" stroke="#222" stroke-width="0.45" stroke-dasharray="1 0.4"/>
<text class="m" transform="matrix(1 0.0006 0 1 138.50 288.00)" font-size="2.5">ν<tspan font-size="1.7" dy="0.5">0</tspan><tspan dy="-0.5"> = 8.53845</tspan></text>
<text class="c" transform="matrix(1 0.0006 0 1 14.70 404.25)" font-size="8.7"><tspan x="0" textLength="9.70" lengthAdjust="spacingAndGlyphs">(e)</tspan> <tspan x="14.10" textLength="30.80" lengthAdjust="spacingAndGlyphs">Rayleigh</tspan> <tspan x="48.30" textLength="40.10" lengthAdjust="spacingAndGlyphs">probability</tspan> <tspan x="92.30" textLength="6.00" lengthAdjust="spacingAndGlyphs">at</tspan> <tspan x="102.70" textLength="7.80" lengthAdjust="spacingAndGlyphs">5°</tspan> <tspan x="114.00" textLength="18.60" lengthAdjust="spacingAndGlyphs">away.</tspan></text>
</g>
<g>
<rect x="196.0" y="283.5" width="143.80" height="94.6" fill="none" stroke="#2a2a2a" stroke-width="0.66"/>
<rect x="202.10" y="301.00" width="15.30" height="77.30" fill="#b4cde2" fill-opacity="0.75" stroke="#6f7c8a" stroke-opacity="0.7" stroke-width="0.38"/>
<rect x="217.40" y="299.20" width="14.20" height="79.10" fill="#b4cde2" fill-opacity="0.75" stroke="#6f7c8a" stroke-opacity="0.7" stroke-width="0.38"/>
<rect x="231.60" y="308.00" width="14.50" height="70.30" fill="#b4cde2" fill-opacity="0.75" stroke="#6f7c8a" stroke-opacity="0.7" stroke-width="0.38"/>
<rect x="246.10" y="317.00" width="14.20" height="61.30" fill="#b4cde2" fill-opacity="0.75" stroke="#6f7c8a" stroke-opacity="0.7" stroke-width="0.38"/>
<rect x="260.30" y="327.30" width="14.50" height="51.00" fill="#b4cde2" fill-opacity="0.75" stroke="#6f7c8a" stroke-opacity="0.7" stroke-width="0.38"/>
<rect x="274.80" y="337.50" width="14.40" height="40.80" fill="#b4cde2" fill-opacity="0.75" stroke="#6f7c8a" stroke-opacity="0.7" stroke-width="0.38"/>
<rect x="289.20" y="346.10" width="14.60" height="32.20" fill="#b4cde2" fill-opacity="0.75" stroke="#6f7c8a" stroke-opacity="0.7" stroke-width="0.38"/>
<rect x="318.40" y="357.10" width="14.30" height="21.20" fill="#b4cde2" fill-opacity="0.75" stroke="#6f7c8a" stroke-opacity="0.7" stroke-width="0.38"/>
<circle cx="209.75" cy="301.05" r="0.8" fill="#2f8f40"/>
<circle cx="224.50" cy="299.25" r="0.8" fill="#2f8f40"/>
<circle cx="238.85" cy="308.05" r="0.8" fill="#2f8f40"/>
<circle cx="253.20" cy="317.05" r="0.8" fill="#2f8f40"/>
<circle cx="267.55" cy="327.35" r="0.8" fill="#2f8f40"/>
<circle cx="282.00" cy="337.55" r="0.8" fill="#2f8f40"/>
<circle cx="296.50" cy="346.15" r="0.8" fill="#2f8f40"/>
<line x1="209.7" y1="294.2" x2="331.2" y2="362.8" stroke="#f54242" stroke-width="1.12" stroke-linecap="round"/>
<line x1="202.50" y1="378.1" x2="202.50" y2="379.20000000000005" stroke="#2a2a2a" stroke-width="0.35"/>
<text class="t" transform="matrix(1 0.0006 0 1 202.70 382.40)" font-size="2.5" text-anchor="middle">0</text>
<line x1="233.10" y1="378.1" x2="233.10" y2="379.20000000000005" stroke="#2a2a2a" stroke-width="0.35"/>
<text class="t" transform="matrix(1 0.0006 0 1 233.30 382.40)" font-size="2.5" text-anchor="middle">2</text>
<line x1="263.70" y1="378.1" x2="263.70" y2="379.20000000000005" stroke="#2a2a2a" stroke-width="0.35"/>
<text class="t" transform="matrix(1 0.0006 0 1 263.90 382.40)" font-size="2.5" text-anchor="middle">4</text>
<line x1="294.30" y1="378.1" x2="294.30" y2="379.20000000000005" stroke="#2a2a2a" stroke-width="0.35"/>
<text class="t" transform="matrix(1 0.0006 0 1 294.50 382.40)" font-size="2.5" text-anchor="middle">6</text>
<line x1="324.90" y1="378.1" x2="324.90" y2="379.20000000000005" stroke="#2a2a2a" stroke-width="0.35"/>
<text class="t" transform="matrix(1 0.0006 0 1 325.10 382.40)" font-size="2.5" text-anchor="middle">8</text>
<line x1="194.9" y1="377.80" x2="196.0" y2="377.80" stroke="#2a2a2a" stroke-width="0.35"/>
<text class="t" transform="matrix(1 0.0006 0 1 194.40 378.70)" font-size="2.3" text-anchor="end">10⁰</text>
<line x1="194.9" y1="342.20" x2="196.0" y2="342.20" stroke="#2a2a2a" stroke-width="0.35"/>
<text class="t" transform="matrix(1 0.0006 0 1 194.40 343.10)" font-size="2.3" text-anchor="end">10¹</text>
<line x1="194.9" y1="306.30" x2="196.0" y2="306.30" stroke="#2a2a2a" stroke-width="0.35"/>
<text class="t" transform="matrix(1 0.0006 0 1 194.40 307.20)" font-size="2.3" text-anchor="end">10²</text>
<line x1="195.4" y1="367.10" x2="196.0" y2="367.10" stroke="#2a2a2a" stroke-width="0.25"/>
<line x1="195.4" y1="360.80" x2="196.0" y2="360.80" stroke="#2a2a2a" stroke-width="0.25"/>
<line x1="195.4" y1="356.40" x2="196.0" y2="356.40" stroke="#2a2a2a" stroke-width="0.25"/>
<line x1="195.4" y1="352.90" x2="196.0" y2="352.90" stroke="#2a2a2a" stroke-width="0.25"/>
<line x1="195.4" y1="350.10" x2="196.0" y2="350.10" stroke="#2a2a2a" stroke-width="0.25"/>
<line x1="195.4" y1="347.70" x2="196.0" y2="347.70" stroke="#2a2a2a" stroke-width="0.25"/>
<line x1="195.4" y1="345.60" x2="196.0" y2="345.60" stroke="#2a2a2a" stroke-width="0.25"/>
<line x1="195.4" y1="343.80" x2="196.0" y2="343.80" stroke="#2a2a2a" stroke-width="0.25"/>
<line x1="195.4" y1="331.50" x2="196.0" y2="331.50" stroke="#2a2a2a" stroke-width="0.25"/>
<line x1="195.4" y1="325.20" x2="196.0" y2="325.20" stroke="#2a2a2a" stroke-width="0.25"/>
<line x1="195.4" y1="320.80" x2="196.0" y2="320.80" stroke="#2a2a2a" stroke-width="0.25"/>
<line x1="195.4" y1="317.30" x2="196.0" y2="317.30" stroke="#2a2a2a" stroke-width="0.25"/>
<line x1="195.4" y1="314.50" x2="196.0" y2="314.50" stroke="#2a2a2a" stroke-width="0.25"/>
<line x1="195.4" y1="312.10" x2="196.0" y2="312.10" stroke="#2a2a2a" stroke-width="0.25"/>
<line x1="195.4" y1="310.00" x2="196.0" y2="310.00" stroke="#2a2a2a" stroke-width="0.25"/>
<line x1="195.4" y1="308.20" x2="196.0" y2="308.20" stroke="#2a2a2a" stroke-width="0.25"/>
<line x1="195.4" y1="295.60" x2="196.0" y2="295.60" stroke="#2a2a2a" stroke-width="0.25"/>
<line x1="195.4" y1="331.20" x2="196.0" y2="331.20" stroke="#2a2a2a" stroke-width="0.25"/>
<line x1="195.4" y1="289.30" x2="196.0" y2="289.30" stroke="#2a2a2a" stroke-width="0.25"/>
<line x1="195.4" y1="324.90" x2="196.0" y2="324.90" stroke="#2a2a2a" stroke-width="0.25"/>
<line x1="195.4" y1="284.90" x2="196.0" y2="284.90" stroke="#2a2a2a" stroke-width="0.25"/>
<line x1="195.4" y1="320.50" x2="196.0" y2="320.50" stroke="#2a2a2a" stroke-width="0.25"/>
<line x1="195.4" y1="317.00" x2="196.0" y2="317.00" stroke="#2a2a2a" stroke-width="0.25"/>
<line x1="195.4" y1="314.20" x2="196.0" y2="314.20" stroke="#2a2a2a" stroke-width="0.25"/>
<line x1="195.4" y1="311.80" x2="196.0" y2="311.80" stroke="#2a2a2a" stroke-width="0.25"/>
<line x1="195.4" y1="309.70" x2="196.0" y2="309.70" stroke="#2a2a2a" stroke-width="0.25"/>
<line x1="195.4" y1="307.90" x2="196.0" y2="307.90" stroke="#2a2a2a" stroke-width="0.25"/>
<text class="m" transform="matrix(1 0.0006 0 1 267.50 387.00)" font-size="3.2" text-anchor="middle">Rayleigh Statistic</text>
<text class="u" transform="matrix(0.0006 -1 1 0 189.10 331.40)" font-size="3.9" text-anchor="middle" textLength="26.4" lengthAdjust="spacingAndGlyphs">Log<tspan font-size="2.6" dy="0.8">10</tspan><tspan dy="-0.8">(dN/dZ)</tspan></text>
<rect x="306.6" y="284.6" width="31.60" height="6.20" rx="0.5" fill="#fff" stroke="#ccc" stroke-width="0.3"/>
<line x1="308.6" y1="287.70" x2="312.6" y2="287.70" stroke="#ff5a5a" stroke-width="0.7"/>
<text class="t" transform="matrix(1 0.0006 0 1 337.00 288.60)" font-size="2.4" text-anchor="end">y = -0.24x + 2.45</text>
<text class="c" transform="matrix(1 0.0006 0 1 198.00 404.25)" font-size="8.7"><tspan x="0" textLength="8.70" lengthAdjust="spacingAndGlyphs">(f)</tspan> <tspan x="12.60" textLength="31.00" lengthAdjust="spacingAndGlyphs">Rayleigh</tspan> <tspan x="47.90" textLength="36.00" lengthAdjust="spacingAndGlyphs">histogram</tspan> <tspan x="88.30" textLength="6.20" lengthAdjust="spacingAndGlyphs">at</tspan> <tspan x="98.10" textLength="7.80" lengthAdjust="spacingAndGlyphs">5°</tspan> <tspan x="109.40" textLength="19.50" lengthAdjust="spacingAndGlyphs">away.</tspan></text>
</g>
<g>
<path d="M21.60,508.40 L21.85,506.66 L22.10,505.35 L22.35,504.41 L22.60,503.79 L22.85,503.42 L23.10,503.37 L23.35,504.49 L23.60,506.43 L23.85,508.57 L24.10,510.27 L24.35,510.90 L24.60,509.94 L24.85,508.05 L25.10,505.62 L25.35,502.84 L25.60,499.90 L25.85,496.99 L26.10,494.29 L26.35,492.00 L26.60,490.20 L26.85,488.75 L27.10,487.49 L27.35,486.25 L27.60,484.89 L27.85,483.18 L28.10,479.20 L28.35,472.95 L28.60,465.58 L28.85,458.24 L29.10,452.08 L29.35,448.25 L29.60,447.91 L29.85,451.32 L30.10,455.53 L30.35,460.07 L30.60,464.82 L30.85,469.67 L31.10,474.50 L31.35,479.28 L31.60,484.23 L31.85,489.26 L32.10,494.24 L32.35,499.05 L32.60,503.02 L32.85,501.77 L33.10,496.13 L33.35,488.29 L33.60,480.44 L33.85,474.78 L34.10,473.50 L34.35,475.32 L34.60,477.51 L34.85,480.04 L35.10,482.88 L35.35,486.00 L35.60,489.45 L35.85,493.65 L36.10,498.27 L36.35,502.80 L36.60,506.73 L36.85,509.52 L37.10,510.04 L37.35,508.52 L37.60,505.85 L37.85,502.88 L38.10,500.49 L38.35,499.54 L38.60,500.38 L38.85,502.18 L39.10,504.63 L39.35,507.42 L39.60,510.27 L39.85,512.87 L40.10,514.94 L40.35,516.18 L40.60,516.19 L40.85,514.30 L41.10,511.42 L41.35,508.78 L41.60,507.60 L41.85,508.27 L42.10,509.98 L42.35,512.19 L42.60,514.36 L42.85,515.95 L43.10,516.40 L43.35,515.53 L43.60,513.79 L43.85,511.55 L44.10,509.22 L44.35,507.18 L44.60,505.83 L44.85,505.54 L45.10,506.28 L45.35,507.61 L45.60,509.15 L45.85,510.52 L46.10,511.32 L46.35,511.20 L46.60,510.69 L46.85,510.16 L47.10,509.60 L47.35,509.02 L47.60,508.42 L47.85,507.80 L48.10,507.16 L48.35,506.50 L48.60,505.78 L48.85,505.03 L49.10,504.24 L49.35,503.45 L49.60,502.67 L49.85,501.91 L50.10,501.19 L50.35,500.53 L50.60,500.23 L50.85,500.81 L51.10,502.02 L51.35,503.61 L51.60,505.30 L51.85,506.84 L52.10,507.97 L52.35,508.42 L52.60,507.92 L52.85,506.66 L53.10,504.96 L53.35,503.16 L53.60,501.60 L53.85,500.59 L54.10,500.51 L54.35,501.62 L54.60,503.66 L54.85,506.22 L55.10,508.94 L55.35,511.42 L55.60,513.30 L55.85,514.18 L56.10,513.59 L56.35,511.60 L56.60,508.96 L56.85,506.44 L57.10,504.83 L57.35,504.84 L57.60,505.70 L57.85,506.75 L58.10,507.90 L58.35,509.09 L58.60,510.23 L58.85,511.22 L59.10,512.00 L59.35,512.69 L59.60,513.44 L59.85,514.20 L60.10,514.93 L60.35,515.55 L60.60,516.04 L60.85,516.33 L61.10,516.37 L61.35,516.14 L61.60,515.80 L61.85,515.39 L62.10,514.92 L62.35,514.43 L62.60,513.93 L62.85,513.46 L63.10,513.05 L63.35,512.69 L63.60,512.36 L63.85,512.04 L64.10,511.74 L64.35,511.46 L64.60,511.19 L64.85,510.94 L65.10,510.70 L65.35,510.70 L65.60,511.06 L65.85,511.68 L66.10,512.42 L66.35,513.18 L66.60,513.82 L66.85,514.22 L67.10,514.25 L67.35,513.70 L67.60,512.67 L67.85,511.30 L68.10,509.73 L68.35,508.12 L68.60,506.12 L68.85,503.04 L69.10,499.30 L69.35,495.36 L69.60,491.66 L69.85,488.66 L70.10,486.80 L70.35,486.86 L70.60,488.94 L70.85,492.49 L71.10,496.96 L71.35,501.78 L71.60,506.41 L71.85,510.29 L72.10,512.86 L72.35,513.59 L72.60,512.81 L72.85,511.23 L73.10,509.38 L73.35,507.76 L73.60,506.90 L73.85,507.29 L74.10,508.48 L74.35,509.96 L74.60,511.53 L74.85,512.95 L75.10,514.02 L75.35,514.65 L75.60,515.21 L75.85,515.73 L76.10,516.19 L76.35,516.53 L76.60,516.75 L76.85,516.84 L77.10,516.89 L77.35,516.88 L77.60,516.82 L77.85,516.70 L78.10,516.49 L78.35,516.20 L78.60,515.80 L78.85,515.29 L79.10,514.67 L79.35,513.97 L79.60,513.21 L79.85,512.43 L80.10,511.66 L80.35,510.91 L80.60,510.22 L80.85,509.61 L81.10,509.11 L81.35,508.69 L81.60,508.33 L81.85,508.02 L82.10,507.75 L82.35,507.52 L82.60,507.32 L82.85,507.14 L83.10,507.03 L83.35,507.13 L83.60,507.40 L83.85,507.77 L84.10,508.22 L84.35,508.73 L84.60,510.18 L84.85,512.43 L85.10,514.73 L85.35,516.33 L85.60,516.53 L85.85,515.30 L86.10,513.07 L86.35,510.24 L86.60,507.23 L86.85,504.45 L87.10,502.32 L87.35,501.26 L87.60,501.58 L87.85,502.72 L88.10,504.35 L88.35,506.31 L88.60,508.44 L88.85,510.59 L89.10,512.58 L89.35,514.27 L89.60,515.48 L89.85,516.14 L90.10,516.47 L90.35,516.50 L90.60,516.23 L90.85,515.64 L91.10,514.09 L91.35,511.58 L91.60,508.52 L91.85,505.33 L92.10,502.42 L92.35,500.20 L92.60,499.10 L92.85,499.44 L93.10,501.03 L93.35,503.50 L93.60,506.47 L93.85,509.57 L94.10,512.41 L94.35,514.62 L94.60,515.82 L94.85,515.66 L95.10,514.84 L95.35,513.86 L95.60,512.82 L95.85,511.83 L96.10,510.98 L96.35,510.31 L96.60,509.67 L96.85,509.04 L97.10,508.44 L97.35,507.88 L97.60,507.38 L97.85,506.96 L98.10,506.64 L98.35,506.43 L98.60,506.50 L98.85,507.10 L99.10,508.13 L99.35,509.44 L99.60,510.91 L99.85,512.42 L100.10,513.82 L100.35,514.99 L100.60,515.80 L100.85,516.21 L101.10,516.28 L101.35,516.08 L101.60,515.64 L101.85,515.02 L102.10,514.27 L102.35,513.39 L102.60,511.34 L102.85,507.94 L103.10,503.69 L103.35,499.04 L103.60,494.48 L103.85,490.49 L104.10,487.52 L104.35,486.07 L104.60,486.76 L104.85,489.65 L105.10,493.80 L105.35,498.26 L105.60,502.09 L105.85,504.33 L106.10,504.84 L106.35,504.96 L106.60,504.86 L106.85,504.67 L107.10,504.52 L107.35,504.55 L107.60,504.90 L107.85,505.73 L108.10,507.03 L108.35,508.65 L108.60,510.47 L108.85,512.33 L109.10,514.09 L109.35,515.62 L109.60,516.78 L109.85,517.06 L110.10,515.15 L110.35,511.37 L110.60,506.20 L110.85,500.12 L111.10,493.64 L111.35,487.22 L111.60,481.37 L111.85,476.57 L112.10,473.30 L112.35,472.06 L112.60,473.38 L112.85,477.18 L113.10,482.78 L113.35,489.47 L113.60,496.56 L113.85,503.33 L114.10,509.07 L114.35,513.10 L114.60,514.70 L114.85,514.54 L115.10,513.90 L115.35,513.03 L115.60,512.15 L115.85,511.49 L116.10,511.30 L116.35,511.72 L116.60,512.49 L116.85,513.46 L117.10,514.47 L117.35,515.38 L117.60,516.04 L117.85,516.31 L118.10,515.92 L118.35,514.89 L118.60,513.37 L118.85,511.52 L119.10,509.48 L119.35,507.40 L119.60,505.43 L119.85,503.73 L120.10,502.44 L120.35,501.71 L120.60,501.70 L120.85,502.48 L121.10,503.90 L121.35,505.78 L121.60,507.91 L121.85,510.11 L122.10,512.18 L122.35,513.94 L122.60,515.19 L122.85,515.87 L123.10,516.42 L123.35,516.89 L123.60,517.29 L123.85,517.40 L124.10,517.40 L124.35,517.40 L124.60,517.40 L124.85,517.40 L125.10,517.40 L125.35,517.40 L125.60,517.40 L125.85,517.18 L126.10,516.61 L126.35,515.60 L126.60,514.25 L126.85,512.64 L127.10,510.86 L127.35,509.00 L127.60,507.16 L127.85,505.42 L128.10,503.89 L128.35,502.63 L128.60,501.76 L128.85,501.37 L129.10,501.66 L129.35,502.60 L129.60,504.03 L129.85,505.78 L130.10,507.68 L130.35,509.58 L130.60,511.31 L130.85,512.72 L131.10,513.63 L131.35,513.89 L131.60,513.31 L131.85,512.25 L132.10,511.18 L132.35,510.61 L132.60,510.92 L132.85,511.94 L133.10,513.27 L133.35,514.54 L133.60,515.38 L133.85,515.43 L134.10,514.71 L134.35,513.42 L134.60,511.74 L134.85,509.83 L135.10,507.88 L135.35,506.07 L135.60,504.58 L135.85,503.58 L136.10,503.30 L136.35,504.09 L136.60,505.76 L136.85,508.00 L137.10,510.53 L137.35,513.03 L137.60,515.21 L137.85,516.77 L138.10,517.40 L138.35,516.93 L138.60,515.51 L138.85,513.30 L139.10,510.49 L139.35,507.25 L139.60,503.76 L139.85,500.20 L140.10,496.74 L140.35,493.55 L140.60,490.82 L140.85,488.72 L141.10,487.43 L141.35,487.13 L141.60,487.97 L141.85,489.79 L142.10,492.34 L142.35,495.35 L142.60,498.58 L142.85,501.77 L143.10,504.66 L143.35,507.00 L143.60,508.53 L143.85,509.00 L144.10,508.24 L144.35,506.56 L144.60,504.32 L144.85,501.91 L145.10,499.72 L145.35,498.12 L145.60,497.49 L145.85,498.13 L146.10,499.77 L146.35,502.10 L146.60,504.83 L146.85,507.69 L147.10,510.39 L147.35,512.65 L147.60,514.18 L147.85,514.72 L148.10,514.45 L148.35,513.70 L148.60,512.71 L148.85,511.70 L149.10,510.90 L149.35,510.52 L149.60,510.75 L149.85,511.21 L150.10,511.81 L150.35,512.59 L150.60,513.58 L150.85,514.81 L151.10,516.30" fill="none" stroke="#2b2ba6" stroke-width="0.5" stroke-linejoin="round"/>
<line x1="84.6" y1="422.9" x2="84.6" y2="517.5" stroke="#262626" stroke-width="0.6" stroke-dasharray="1.25 0.25"/>
<rect x="14.5" y="422.9" width="143.75" height="94.6" fill="none" stroke="#2a2a2a" stroke-width="0.6"/>
<line x1="13.4" y1="517.50" x2="14.5" y2="517.50" stroke="#2a2a2a" stroke-width="0.35"/>
<text class="t" transform="matrix(1 0.0006 0 1 12.90 518.95)" font-size="3.0" text-anchor="end">0.0</text>
<line x1="13.4" y1="505.68" x2="14.5" y2="505.68" stroke="#2a2a2a" stroke-width="0.35"/>
<text class="t" transform="matrix(1 0.0006 0 1 12.90 507.12)" font-size="3.0" text-anchor="end">0.5</text>
<line x1="13.4" y1="493.85" x2="14.5" y2="493.85" stroke="#2a2a2a" stroke-width="0.35"/>
<text class="t" transform="matrix(1 0.0006 0 1 12.90 495.30)" font-size="3.0" text-anchor="end">1.0</text>
<line x1="13.4" y1="482.02" x2="14.5" y2="482.02" stroke="#2a2a2a" stroke-width="0.35"/>
<text class="t" transform="matrix(1 0.0006 0 1 12.90 483.47)" font-size="3.0" text-anchor="end">1.5</text>
<line x1="13.4" y1="470.20" x2="14.5" y2="470.20" stroke="#2a2a2a" stroke-width="0.35"/>
<text class="t" transform="matrix(1 0.0006 0 1 12.90 471.65)" font-size="3.0" text-anchor="end">2.0</text>
<line x1="13.4" y1="458.38" x2="14.5" y2="458.38" stroke="#2a2a2a" stroke-width="0.35"/>
<text class="t" transform="matrix(1 0.0006 0 1 12.90 459.82)" font-size="3.0" text-anchor="end">2.5</text>
<line x1="13.4" y1="446.55" x2="14.5" y2="446.55" stroke="#2a2a2a" stroke-width="0.35"/>
<text class="t" transform="matrix(1 0.0006 0 1 12.90 448.00)" font-size="3.0" text-anchor="end">3.0</text>
<line x1="13.4" y1="434.73" x2="14.5" y2="434.73" stroke="#2a2a2a" stroke-width="0.35"/>
<text class="t" transform="matrix(1 0.0006 0 1 12.90 436.18)" font-size="3.0" text-anchor="end">3.5</text>
<line x1="13.4" y1="422.90" x2="14.5" y2="422.90" stroke="#2a2a2a" stroke-width="0.35"/>
<text class="t" transform="matrix(1 0.0006 0 1 12.90 424.35)" font-size="3.0" text-anchor="end">4.0</text>
<line x1="25.50" y1="517.5" x2="25.50" y2="518.6" stroke="#2a2a2a" stroke-width="0.35"/>
<text class="t" transform="matrix(1 0.0006 0 1 25.50 521.50)" font-size="2.5" text-anchor="middle">8.53878</text>
<line x1="42.50" y1="517.5" x2="42.50" y2="518.6" stroke="#2a2a2a" stroke-width="0.35"/>
<text class="t" transform="matrix(1 0.0006 0 1 42.50 521.50)" font-size="2.5" text-anchor="middle">8.53880</text>
<line x1="59.50" y1="517.5" x2="59.50" y2="518.6" stroke="#2a2a2a" stroke-width="0.35"/>
<text class="t" transform="matrix(1 0.0006 0 1 59.50 521.50)" font-size="2.5" text-anchor="middle">8.53882</text>
<line x1="76.50" y1="517.5" x2="76.50" y2="518.6" stroke="#2a2a2a" stroke-width="0.35"/>
<text class="t" transform="matrix(1 0.0006 0 1 76.50 521.50)" font-size="2.5" text-anchor="middle">8.53884</text>
<line x1="93.50" y1="517.5" x2="93.50" y2="518.6" stroke="#2a2a2a" stroke-width="0.35"/>
<text class="t" transform="matrix(1 0.0006 0 1 93.50 521.50)" font-size="2.5" text-anchor="middle">8.53886</text>
<line x1="110.50" y1="517.5" x2="110.50" y2="518.6" stroke="#2a2a2a" stroke-width="0.35"/>
<text class="t" transform="matrix(1 0.0006 0 1 110.50 521.50)" font-size="2.5" text-anchor="middle">8.53888</text>
<line x1="127.50" y1="517.5" x2="127.50" y2="518.6" stroke="#2a2a2a" stroke-width="0.35"/>
<text class="t" transform="matrix(1 0.0006 0 1 127.50 521.50)" font-size="2.5" text-anchor="middle">8.53890</text>
<line x1="144.50" y1="517.5" x2="144.50" y2="518.6" stroke="#2a2a2a" stroke-width="0.35"/>
<text class="t" transform="matrix(1 0.0006 0 1 144.50 521.50)" font-size="2.5" text-anchor="middle">8.53892</text>
<text class="t" transform="matrix(1 0.0006 0 1 86.67 526.25)" font-size="4.3" text-anchor="middle">Pulse Frequency (mHz)</text>
<text class="m" transform="matrix(0.0006 -1 1 0 6.20 470.20)" font-size="4.3" text-anchor="middle" textLength="20.4" lengthAdjust="spacingAndGlyphs">-Log<tspan font-size="3.0" dy="0.9">10</tspan><tspan dy="-0.9">(Pr)</tspan></text>
<rect x="130.9" y="424.40" width="26.3" height="4.3" rx="0.5" fill="#fff" stroke="#ccc" stroke-width="0.3"/>
<line x1="131.8" y1="426.55" x2="136.8" y2="426.55" stroke="#222" stroke-width="0.45" stroke-dasharray="1 0.4"/>
<text class="m" transform="matrix(1 0.0006 0 1 138.50 427.40)" font-size="2.5">ν<tspan font-size="1.7" dy="0.5">0</tspan><tspan dy="-0.5"> = 8.53845</tspan></text>
<text class="c" transform="matrix(1 0.0006 0 1 14.30 543.65)" font-size="8.7"><tspan x="0" textLength="11.00" lengthAdjust="spacingAndGlyphs">(g)</tspan> <tspan x="14.50" textLength="30.80" lengthAdjust="spacingAndGlyphs">Rayleigh</tspan> <tspan x="48.70" textLength="40.10" lengthAdjust="spacingAndGlyphs">probability</tspan> <tspan x="92.70" textLength="6.00" lengthAdjust="spacingAndGlyphs">at</tspan> <tspan x="103.10" textLength="7.80" lengthAdjust="spacingAndGlyphs">8°</tspan> <tspan x="114.40" textLength="18.60" lengthAdjust="spacingAndGlyphs">away.</tspan></text>
</g>
<g>
<rect x="196.0" y="422.9" width="143.80" height="94.6" fill="none" stroke="#2a2a2a" stroke-width="0.66"/>
<rect x="202.10" y="427.10" width="15.30" height="90.60" fill="#b4cde2" fill-opacity="0.75" stroke="#6f7c8a" stroke-opacity="0.7" stroke-width="0.38"/>
<rect x="217.40" y="434.50" width="14.20" height="83.20" fill="#b4cde2" fill-opacity="0.75" stroke="#6f7c8a" stroke-opacity="0.7" stroke-width="0.38"/>
<rect x="231.60" y="451.20" width="14.50" height="66.50" fill="#b4cde2" fill-opacity="0.75" stroke="#6f7c8a" stroke-opacity="0.7" stroke-width="0.38"/>
<rect x="246.10" y="462.50" width="14.20" height="55.20" fill="#b4cde2" fill-opacity="0.75" stroke="#6f7c8a" stroke-opacity="0.7" stroke-width="0.38"/>
<rect x="260.30" y="472.30" width="14.50" height="45.40" fill="#b4cde2" fill-opacity="0.75" stroke="#6f7c8a" stroke-opacity="0.7" stroke-width="0.38"/>
<rect x="274.80" y="477.50" width="14.40" height="40.20" fill="#b4cde2" fill-opacity="0.75" stroke="#6f7c8a" stroke-opacity="0.7" stroke-width="0.38"/>
<rect x="289.20" y="514.00" width="14.60" height="3.70" fill="#b4cde2" fill-opacity="0.75" stroke="#6f7c8a" stroke-opacity="0.7" stroke-width="0.38"/>
<rect x="303.80" y="496.60" width="14.60" height="21.10" fill="#b4cde2" fill-opacity="0.75" stroke="#6f7c8a" stroke-opacity="0.7" stroke-width="0.38"/>
<rect x="318.40" y="488.20" width="14.30" height="29.50" fill="#b4cde2" fill-opacity="0.75" stroke="#6f7c8a" stroke-opacity="0.7" stroke-width="0.38"/>
<circle cx="209.75" cy="427.15" r="0.8" fill="#2f8f40"/>
<circle cx="224.50" cy="434.55" r="0.8" fill="#2f8f40"/>
<circle cx="238.85" cy="451.25" r="0.8" fill="#2f8f40"/>
<circle cx="253.20" cy="462.55" r="0.8" fill="#2f8f40"/>
<circle cx="267.55" cy="472.35" r="0.8" fill="#2f8f40"/>
<circle cx="282.00" cy="477.55" r="0.8" fill="#2f8f40"/>
<circle cx="296.50" cy="514.05" r="0.8" fill="#2f8f40"/>
<circle cx="311.10" cy="496.65" r="0.8" fill="#2f8f40"/>
<circle cx="325.55" cy="488.25" r="0.8" fill="#2f8f40"/>
<line x1="209.7" y1="431.2" x2="326" y2="507.5" stroke="#f54242" stroke-width="1.12" stroke-linecap="round"/>
<line x1="202.50" y1="517.5" x2="202.50" y2="518.6" stroke="#2a2a2a" stroke-width="0.35"/>
<text class="t" transform="matrix(1 0.0006 0 1 202.70 521.80)" font-size="2.5" text-anchor="middle">0</text>
<line x1="221.70" y1="517.5" x2="221.70" y2="518.6" stroke="#2a2a2a" stroke-width="0.35"/>
<text class="t" transform="matrix(1 0.0006 0 1 221.90 521.80)" font-size="2.5" text-anchor="middle">2</text>
<line x1="240.90" y1="517.5" x2="240.90" y2="518.6" stroke="#2a2a2a" stroke-width="0.35"/>
<text class="t" transform="matrix(1 0.0006 0 1 241.10 521.80)" font-size="2.5" text-anchor="middle">4</text>
<line x1="260.10" y1="517.5" x2="260.10" y2="518.6" stroke="#2a2a2a" stroke-width="0.35"/>
<text class="t" transform="matrix(1 0.0006 0 1 260.30 521.80)" font-size="2.5" text-anchor="middle">6</text>
<line x1="279.30" y1="517.5" x2="279.30" y2="518.6" stroke="#2a2a2a" stroke-width="0.35"/>
<text class="t" transform="matrix(1 0.0006 0 1 279.50 521.80)" font-size="2.5" text-anchor="middle">8</text>
<line x1="298.50" y1="517.5" x2="298.50" y2="518.6" stroke="#2a2a2a" stroke-width="0.35"/>
<text class="t" transform="matrix(1 0.0006 0 1 298.70 521.80)" font-size="2.5" text-anchor="middle">10</text>
<line x1="317.70" y1="517.5" x2="317.70" y2="518.6" stroke="#2a2a2a" stroke-width="0.35"/>
<text class="t" transform="matrix(1 0.0006 0 1 317.90 521.80)" font-size="2.5" text-anchor="middle">12</text>
<line x1="336.90" y1="517.5" x2="336.90" y2="518.6" stroke="#2a2a2a" stroke-width="0.35"/>
<text class="t" transform="matrix(1 0.0006 0 1 337.10 521.80)" font-size="2.5" text-anchor="middle">14</text>
<line x1="194.9" y1="513.30" x2="196.0" y2="513.30" stroke="#2a2a2a" stroke-width="0.35"/>
<text class="t" transform="matrix(1 0.0006 0 1 194.40 514.20)" font-size="2.3" text-anchor="end">10¹</text>
<line x1="194.9" y1="476.90" x2="196.0" y2="476.90" stroke="#2a2a2a" stroke-width="0.35"/>
<text class="t" transform="matrix(1 0.0006 0 1 194.40 477.80)" font-size="2.3" text-anchor="end">10²</text>
<line x1="194.9" y1="440.50" x2="196.0" y2="440.50" stroke="#2a2a2a" stroke-width="0.35"/>
<text class="t" transform="matrix(1 0.0006 0 1 194.40 441.40)" font-size="2.3" text-anchor="end">10³</text>
<line x1="195.4" y1="502.60" x2="196.0" y2="502.60" stroke="#2a2a2a" stroke-width="0.25"/>
<line x1="195.4" y1="496.30" x2="196.0" y2="496.30" stroke="#2a2a2a" stroke-width="0.25"/>
<line x1="195.4" y1="491.90" x2="196.0" y2="491.90" stroke="#2a2a2a" stroke-width="0.25"/>
<line x1="195.4" y1="488.40" x2="196.0" y2="488.40" stroke="#2a2a2a" stroke-width="0.25"/>
<line x1="195.4" y1="485.60" x2="196.0" y2="485.60" stroke="#2a2a2a" stroke-width="0.25"/>
<line x1="195.4" y1="483.20" x2="196.0" y2="483.20" stroke="#2a2a2a" stroke-width="0.25"/>
<line x1="195.4" y1="481.10" x2="196.0" y2="481.10" stroke="#2a2a2a" stroke-width="0.25"/>
<line x1="195.4" y1="516.70" x2="196.0" y2="516.70" stroke="#2a2a2a" stroke-width="0.25"/>
<line x1="195.4" y1="479.30" x2="196.0" y2="479.30" stroke="#2a2a2a" stroke-width="0.25"/>
<line x1="195.4" y1="514.90" x2="196.0" y2="514.90" stroke="#2a2a2a" stroke-width="0.25"/>
<line x1="195.4" y1="466.20" x2="196.0" y2="466.20" stroke="#2a2a2a" stroke-width="0.25"/>
<line x1="195.4" y1="501.80" x2="196.0" y2="501.80" stroke="#2a2a2a" stroke-width="0.25"/>
<line x1="195.4" y1="459.90" x2="196.0" y2="459.90" stroke="#2a2a2a" stroke-width="0.25"/>
<line x1="195.4" y1="495.50" x2="196.0" y2="495.50" stroke="#2a2a2a" stroke-width="0.25"/>
<line x1="195.4" y1="455.50" x2="196.0" y2="455.50" stroke="#2a2a2a" stroke-width="0.25"/>
<line x1="195.4" y1="491.10" x2="196.0" y2="491.10" stroke="#2a2a2a" stroke-width="0.25"/>
<line x1="195.4" y1="452.00" x2="196.0" y2="452.00" stroke="#2a2a2a" stroke-width="0.25"/>
<line x1="195.4" y1="487.60" x2="196.0" y2="487.60" stroke="#2a2a2a" stroke-width="0.25"/>
<line x1="195.4" y1="449.20" x2="196.0" y2="449.20" stroke="#2a2a2a" stroke-width="0.25"/>
<line x1="195.4" y1="484.80" x2="196.0" y2="484.80" stroke="#2a2a2a" stroke-width="0.25"/>
<line x1="195.4" y1="446.80" x2="196.0" y2="446.80" stroke="#2a2a2a" stroke-width="0.25"/>
<line x1="195.4" y1="482.40" x2="196.0" y2="482.40" stroke="#2a2a2a" stroke-width="0.25"/>
<line x1="195.4" y1="444.70" x2="196.0" y2="444.70" stroke="#2a2a2a" stroke-width="0.25"/>
<line x1="195.4" y1="480.30" x2="196.0" y2="480.30" stroke="#2a2a2a" stroke-width="0.25"/>
<line x1="195.4" y1="442.90" x2="196.0" y2="442.90" stroke="#2a2a2a" stroke-width="0.25"/>
<line x1="195.4" y1="478.50" x2="196.0" y2="478.50" stroke="#2a2a2a" stroke-width="0.25"/>
<line x1="195.4" y1="429.80" x2="196.0" y2="429.80" stroke="#2a2a2a" stroke-width="0.25"/>
<line x1="195.4" y1="465.40" x2="196.0" y2="465.40" stroke="#2a2a2a" stroke-width="0.25"/>
<line x1="195.4" y1="423.50" x2="196.0" y2="423.50" stroke="#2a2a2a" stroke-width="0.25"/>
<line x1="195.4" y1="459.10" x2="196.0" y2="459.10" stroke="#2a2a2a" stroke-width="0.25"/>
<line x1="195.4" y1="454.70" x2="196.0" y2="454.70" stroke="#2a2a2a" stroke-width="0.25"/>
<line x1="195.4" y1="451.20" x2="196.0" y2="451.20" stroke="#2a2a2a" stroke-width="0.25"/>
<line x1="195.4" y1="448.40" x2="196.0" y2="448.40" stroke="#2a2a2a" stroke-width="0.25"/>
<line x1="195.4" y1="446.00" x2="196.0" y2="446.00" stroke="#2a2a2a" stroke-width="0.25"/>
<line x1="195.4" y1="443.90" x2="196.0" y2="443.90" stroke="#2a2a2a" stroke-width="0.25"/>
<line x1="195.4" y1="442.10" x2="196.0" y2="442.10" stroke="#2a2a2a" stroke-width="0.25"/>
<text class="m" transform="matrix(1 0.0006 0 1 267.50 526.40)" font-size="3.2" text-anchor="middle">Rayleigh Statistic</text>
<text class="u" transform="matrix(0.0006 -1 1 0 189.10 470.80)" font-size="3.9" text-anchor="middle" textLength="26.4" lengthAdjust="spacingAndGlyphs">Log<tspan font-size="2.6" dy="0.8">10</tspan><tspan dy="-0.8">(dN/dZ)</tspan></text>
<rect x="307.8" y="424.3" width="30.40" height="6.20" rx="0.5" fill="#fff" stroke="#ccc" stroke-width="0.3"/>
<line x1="309.8" y1="427.40" x2="313.8" y2="427.40" stroke="#ff5a5a" stroke-width="0.7"/>
<text class="t" transform="matrix(1 0.0006 0 1 337.00 428.30)" font-size="2.4" text-anchor="end">y = -0.17x + 3.4</text>
<text class="c" transform="matrix(1 0.0006 0 1 196.80 543.65)" font-size="8.7"><tspan x="0" textLength="11.20" lengthAdjust="spacingAndGlyphs">(h)</tspan> <tspan x="14.60" textLength="31.00" lengthAdjust="spacingAndGlyphs">Rayleigh</tspan> <tspan x="49.90" textLength="36.00" lengthAdjust="spacingAndGlyphs">histogram</tspan> <tspan x="90.30" textLength="6.20" lengthAdjust="spacingAndGlyphs">at</tspan> <tspan x="100.10" textLength="7.80" lengthAdjust="spacingAndGlyphs">8°</tspan> <tspan x="111.40" textLength="19.50" lengthAdjust="spacingAndGlyphs">away.</tspan></text>
</g>
</svg></body></html>
